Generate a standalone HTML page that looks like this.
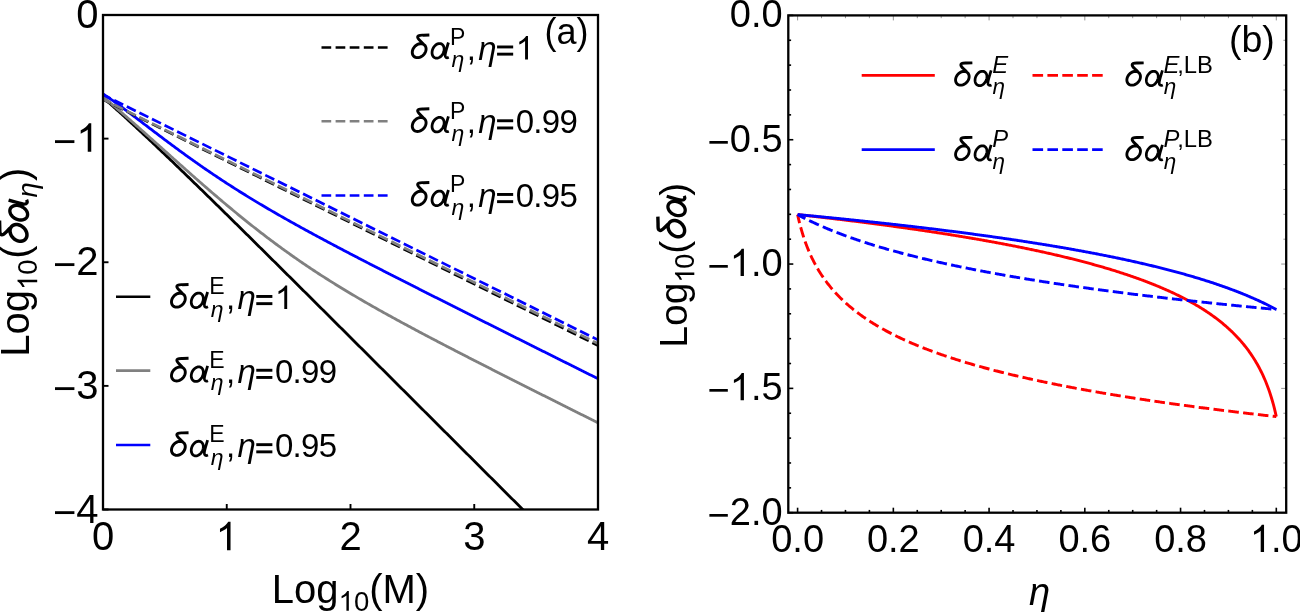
<!DOCTYPE html><html><head><meta charset="utf-8"><style>html,body{margin:0;padding:0;background:#fff;overflow:hidden;}svg{display:block;will-change:transform;}text{font-family:"Liberation Sans",sans-serif;font-kerning:none;}.i{font-style:italic;}</style></head><body>
<svg width="1300" height="612" viewBox="0 0 1300 612">
<rect width="1300" height="612" fill="#fff"/>
<defs>
<clipPath id="cl"><rect x="103.0" y="15.0" width="495.0" height="494.5"/></clipPath>
<clipPath id="cr"><rect x="788.3" y="15.4" width="497.9000000000001" height="497.30000000000007"/></clipPath>
</defs>
<path d="M103.00,97.46 L104.24,98.55 L105.47,99.64 L106.71,100.74 L107.95,101.84 L109.19,102.94 L110.42,104.04 L111.66,105.15 L112.90,106.25 L114.14,107.36 L115.38,108.48 L116.61,109.59 L117.85,110.71 L119.09,111.83 L120.33,112.95 L121.56,114.07 L122.80,115.20 L124.04,116.32 L125.28,117.45 L126.51,118.59 L127.75,119.72 L128.99,120.85 L130.22,121.99 L131.46,123.13 L132.70,124.27 L133.94,125.42 L135.18,126.56 L136.41,127.71 L137.65,128.86 L138.89,130.01 L140.12,131.16 L141.36,132.31 L142.60,133.47 L143.84,134.62 L145.07,135.78 L146.31,136.94 L147.55,138.10 L148.79,139.27 L150.03,140.43 L151.26,141.60 L152.50,142.76 L153.74,143.93 L154.97,145.10 L156.21,146.27 L157.45,147.45 L158.69,148.62 L159.93,149.79 L161.16,150.97 L162.40,152.15 L163.64,153.33 L164.88,154.51 L166.11,155.69 L167.35,156.87 L168.59,158.06 L169.82,159.24 L171.06,160.43 L172.30,161.61 L173.54,162.80 L174.77,163.99 L176.01,165.18 L177.25,166.37 L178.49,167.56 L179.72,168.75 L180.96,169.95 L182.20,171.14 L183.44,172.34 L184.68,173.54 L185.91,174.73 L187.15,175.93 L188.39,177.13 L189.62,178.33 L190.86,179.53 L192.10,180.73 L193.34,181.93 L194.57,183.13 L195.81,184.34 L197.05,185.54 L198.29,186.75 L199.53,187.95 L200.76,189.16 L202.00,190.37 L203.24,191.57 L204.48,192.78 L205.71,193.99 L206.95,195.20 L208.19,196.41 L209.43,197.62 L210.66,198.83 L211.90,200.04 L213.14,201.25 L214.38,202.47 L215.61,203.68 L216.85,204.89 L218.09,206.11 L219.32,207.32 L220.56,208.54 L221.80,209.75 L223.04,210.97 L224.27,212.19 L225.51,213.40 L226.75,214.62 L227.99,215.84 L229.23,217.06 L230.46,218.27 L231.70,219.49 L232.94,220.71 L234.18,221.93 L235.41,223.15 L236.65,224.37 L237.89,225.59 L239.12,226.81 L240.36,228.04 L241.60,229.26 L242.84,230.48 L244.08,231.70 L245.31,232.93 L246.55,234.15 L247.79,235.37 L249.03,236.60 L250.26,237.82 L251.50,239.04 L252.74,240.27 L253.97,241.49 L255.21,242.72 L256.45,243.94 L257.69,245.17 L258.93,246.39 L260.16,247.62 L261.40,248.85 L262.64,250.07 L263.88,251.30 L265.11,252.53 L266.35,253.75 L267.59,254.98 L268.83,256.21 L270.06,257.44 L271.30,258.66 L272.54,259.89 L273.77,261.12 L275.01,262.35 L276.25,263.58 L277.49,264.81 L278.73,266.03 L279.96,267.26 L281.20,268.49 L282.44,269.72 L283.67,270.95 L284.91,272.18 L286.15,273.41 L287.39,274.64 L288.62,275.87 L289.86,277.10 L291.10,278.33 L292.34,279.56 L293.58,280.79 L294.81,282.02 L296.05,283.25 L297.29,284.49 L298.52,285.72 L299.76,286.95 L301.00,288.18 L302.24,289.41 L303.48,290.64 L304.71,291.87 L305.95,293.11 L307.19,294.34 L308.43,295.57 L309.66,296.80 L310.90,298.03 L312.14,299.27 L313.38,300.50 L314.61,301.73 L315.85,302.96 L317.09,304.20 L318.32,305.43 L319.56,306.66 L320.80,307.90 L322.04,309.13 L323.27,310.36 L324.51,311.59 L325.75,312.83 L326.99,314.06 L328.23,315.29 L329.46,316.53 L330.70,317.76 L331.94,318.99 L333.18,320.23 L334.41,321.46 L335.65,322.70 L336.89,323.93 L338.12,325.16 L339.36,326.40 L340.60,327.63 L341.84,328.86 L343.07,330.10 L344.31,331.33 L345.55,332.57 L346.79,333.80 L348.02,335.04 L349.26,336.27 L350.50,337.50 L351.74,338.74 L352.98,339.97 L354.21,341.21 L355.45,342.44 L356.69,343.68 L357.93,344.91 L359.16,346.14 L360.40,347.38 L361.64,348.61 L362.88,349.85 L364.11,351.08 L365.35,352.32 L366.59,353.55 L367.82,354.79 L369.06,356.02 L370.30,357.26 L371.54,358.49 L372.78,359.73 L374.01,360.96 L375.25,362.20 L376.49,363.43 L377.73,364.67 L378.96,365.90 L380.20,367.14 L381.44,368.37 L382.68,369.61 L383.91,370.84 L385.15,372.08 L386.39,373.31 L387.63,374.55 L388.86,375.78 L390.10,377.02 L391.34,378.26 L392.57,379.49 L393.81,380.73 L395.05,381.96 L396.29,383.20 L397.52,384.43 L398.76,385.67 L400.00,386.90 L401.24,388.14 L402.47,389.37 L403.71,390.61 L404.95,391.85 L406.19,393.08 L407.43,394.32 L408.66,395.55 L409.90,396.79 L411.14,398.02 L412.38,399.26 L413.61,400.49 L414.85,401.73 L416.09,402.97 L417.32,404.20 L418.56,405.44 L419.80,406.67 L421.04,407.91 L422.28,409.14 L423.51,410.38 L424.75,411.62 L425.99,412.85 L427.23,414.09 L428.46,415.32 L429.70,416.56 L430.94,417.79 L432.18,419.03 L433.41,420.27 L434.65,421.50 L435.89,422.74 L437.12,423.97 L438.36,425.21 L439.60,426.45 L440.84,427.68 L442.08,428.92 L443.31,430.15 L444.55,431.39 L445.79,432.63 L447.03,433.86 L448.26,435.10 L449.50,436.33 L450.74,437.57 L451.97,438.81 L453.21,440.04 L454.45,441.28 L455.69,442.51 L456.93,443.75 L458.16,444.99 L459.40,446.22 L460.64,447.46 L461.88,448.69 L463.11,449.93 L464.35,451.17 L465.59,452.40 L466.82,453.64 L468.06,454.87 L469.30,456.11 L470.54,457.35 L471.77,458.58 L473.01,459.82 L474.25,461.05 L475.49,462.29 L476.73,463.53 L477.96,464.76 L479.20,466.00 L480.44,467.23 L481.68,468.47 L482.91,469.71 L484.15,470.94 L485.39,472.18 L486.62,473.41 L487.86,474.65 L489.10,475.89 L490.34,477.12 L491.57,478.36 L492.81,479.59 L494.05,480.83 L495.29,482.07 L496.53,483.30 L497.76,484.54 L499.00,485.78 L500.24,487.01 L501.48,488.25 L502.71,489.48 L503.95,490.72 L505.19,491.96 L506.43,493.19 L507.66,494.43 L508.90,495.66 L510.14,496.90 L511.38,498.14 L512.61,499.37 L513.85,500.61 L515.09,501.85 L516.33,503.08 L517.56,504.32 L518.80,505.55 L520.04,506.79 L521.27,508.03 L522.51,509.26 L523.75,510.50 L524.99,511.73 L526.22,512.97 L527.46,514.21 L528.70,515.44 L529.94,516.68 L531.17,517.92 L532.41,519.15 L533.65,520.39 L534.89,521.62 L536.12,522.86 L537.36,524.10 L538.60,525.33 L539.84,526.57 L541.08,527.80 L542.31,529.04 L543.55,530.28 L544.79,531.51 L546.03,532.75 L547.26,533.99 L548.50,535.22" fill="none" stroke="#000" stroke-width="2.8" stroke-linejoin="round" clip-path="url(#cl)"/>
<path d="M103.00,96.74 L104.24,97.77 L105.47,98.81 L106.71,99.85 L107.95,100.89 L109.19,101.94 L110.42,102.98 L111.66,104.04 L112.90,105.09 L114.14,106.15 L115.38,107.21 L116.61,108.27 L117.85,109.34 L119.09,110.41 L120.33,111.48 L121.56,112.55 L122.80,113.63 L124.04,114.71 L125.28,115.79 L126.51,116.87 L127.75,117.95 L128.99,119.04 L130.22,120.12 L131.46,121.21 L132.70,122.30 L133.94,123.39 L135.18,124.49 L136.41,125.58 L137.65,126.67 L138.89,127.77 L140.12,128.87 L141.36,129.97 L142.60,131.07 L143.84,132.17 L145.07,133.27 L146.31,134.37 L147.55,135.47 L148.79,136.58 L150.03,137.68 L151.26,138.79 L152.50,139.89 L153.74,141.00 L154.97,142.10 L156.21,143.21 L157.45,144.32 L158.69,145.42 L159.93,146.53 L161.16,147.64 L162.40,148.75 L163.64,149.85 L164.88,150.96 L166.11,152.07 L167.35,153.17 L168.59,154.28 L169.82,155.39 L171.06,156.49 L172.30,157.60 L173.54,158.70 L174.77,159.81 L176.01,160.91 L177.25,162.01 L178.49,163.12 L179.72,164.22 L180.96,165.32 L182.20,166.42 L183.44,167.52 L184.68,168.62 L185.91,169.71 L187.15,170.81 L188.39,171.91 L189.62,173.00 L190.86,174.09 L192.10,175.19 L193.34,176.28 L194.57,177.37 L195.81,178.45 L197.05,179.54 L198.29,180.62 L199.53,181.71 L200.76,182.79 L202.00,183.87 L203.24,184.95 L204.48,186.03 L205.71,187.10 L206.95,188.17 L208.19,189.25 L209.43,190.32 L210.66,191.38 L211.90,192.45 L213.14,193.51 L214.38,194.58 L215.61,195.64 L216.85,196.69 L218.09,197.75 L219.32,198.80 L220.56,199.85 L221.80,200.90 L223.04,201.95 L224.27,202.99 L225.51,204.03 L226.75,205.07 L227.99,206.11 L229.23,207.14 L230.46,208.17 L231.70,209.20 L232.94,210.23 L234.18,211.25 L235.41,212.27 L236.65,213.29 L237.89,214.31 L239.12,215.32 L240.36,216.33 L241.60,217.34 L242.84,218.34 L244.08,219.34 L245.31,220.34 L246.55,221.33 L247.79,222.32 L249.03,223.31 L250.26,224.30 L251.50,225.28 L252.74,226.26 L253.97,227.24 L255.21,228.21 L256.45,229.18 L257.69,230.15 L258.93,231.11 L260.16,232.07 L261.40,233.03 L262.64,233.98 L263.88,234.93 L265.11,235.88 L266.35,236.82 L267.59,237.76 L268.83,238.70 L270.06,239.64 L271.30,240.57 L272.54,241.49 L273.77,242.42 L275.01,243.34 L276.25,244.25 L277.49,245.17 L278.73,246.08 L279.96,246.98 L281.20,247.89 L282.44,248.79 L283.67,249.68 L284.91,250.58 L286.15,251.47 L287.39,252.35 L288.62,253.24 L289.86,254.12 L291.10,254.99 L292.34,255.87 L293.58,256.74 L294.81,257.60 L296.05,258.47 L297.29,259.33 L298.52,260.18 L299.76,261.04 L301.00,261.89 L302.24,262.73 L303.48,263.58 L304.71,264.42 L305.95,265.25 L307.19,266.09 L308.43,266.92 L309.66,267.75 L310.90,268.57 L312.14,269.39 L313.38,270.21 L314.61,271.03 L315.85,271.84 L317.09,272.65 L318.32,273.46 L319.56,274.26 L320.80,275.06 L322.04,275.86 L323.27,276.65 L324.51,277.44 L325.75,278.23 L326.99,279.02 L328.23,279.80 L329.46,280.58 L330.70,281.36 L331.94,282.14 L333.18,282.91 L334.41,283.68 L335.65,284.45 L336.89,285.21 L338.12,285.97 L339.36,286.73 L340.60,287.49 L341.84,288.25 L343.07,289.00 L344.31,289.75 L345.55,290.50 L346.79,291.24 L348.02,291.99 L349.26,292.73 L350.50,293.47 L351.74,294.20 L352.98,294.94 L354.21,295.67 L355.45,296.40 L356.69,297.13 L357.93,297.85 L359.16,298.58 L360.40,299.30 L361.64,300.02 L362.88,300.74 L364.11,301.45 L365.35,302.17 L366.59,302.88 L367.82,303.59 L369.06,304.30 L370.30,305.01 L371.54,305.71 L372.78,306.41 L374.01,307.12 L375.25,307.82 L376.49,308.52 L377.73,309.21 L378.96,309.91 L380.20,310.60 L381.44,311.29 L382.68,311.99 L383.91,312.67 L385.15,313.36 L386.39,314.05 L387.63,314.73 L388.86,315.42 L390.10,316.10 L391.34,316.78 L392.57,317.46 L393.81,318.14 L395.05,318.82 L396.29,319.50 L397.52,320.17 L398.76,320.84 L400.00,321.52 L401.24,322.19 L402.47,322.86 L403.71,323.53 L404.95,324.20 L406.19,324.86 L407.43,325.53 L408.66,326.20 L409.90,326.86 L411.14,327.52 L412.38,328.19 L413.61,328.85 L414.85,329.51 L416.09,330.17 L417.32,330.83 L418.56,331.48 L419.80,332.14 L421.04,332.80 L422.28,333.45 L423.51,334.11 L424.75,334.76 L425.99,335.41 L427.23,336.07 L428.46,336.72 L429.70,337.37 L430.94,338.02 L432.18,338.67 L433.41,339.32 L434.65,339.96 L435.89,340.61 L437.12,341.26 L438.36,341.90 L439.60,342.55 L440.84,343.19 L442.08,343.84 L443.31,344.48 L444.55,345.13 L445.79,345.77 L447.03,346.41 L448.26,347.05 L449.50,347.69 L450.74,348.33 L451.97,348.97 L453.21,349.61 L454.45,350.25 L455.69,350.89 L456.93,351.53 L458.16,352.17 L459.40,352.81 L460.64,353.44 L461.88,354.08 L463.11,354.72 L464.35,355.35 L465.59,355.99 L466.82,356.62 L468.06,357.26 L469.30,357.89 L470.54,358.52 L471.77,359.16 L473.01,359.79 L474.25,360.42 L475.49,361.06 L476.73,361.69 L477.96,362.32 L479.20,362.95 L480.44,363.58 L481.68,364.21 L482.91,364.84 L484.15,365.48 L485.39,366.11 L486.62,366.74 L487.86,367.36 L489.10,367.99 L490.34,368.62 L491.57,369.25 L492.81,369.88 L494.05,370.51 L495.29,371.14 L496.53,371.77 L497.76,372.39 L499.00,373.02 L500.24,373.65 L501.48,374.27 L502.71,374.90 L503.95,375.53 L505.19,376.15 L506.43,376.78 L507.66,377.41 L508.90,378.03 L510.14,378.66 L511.38,379.28 L512.61,379.91 L513.85,380.54 L515.09,381.16 L516.33,381.79 L517.56,382.41 L518.80,383.03 L520.04,383.66 L521.27,384.28 L522.51,384.91 L523.75,385.53 L524.99,386.16 L526.22,386.78 L527.46,387.40 L528.70,388.03 L529.94,388.65 L531.17,389.27 L532.41,389.90 L533.65,390.52 L534.89,391.14 L536.12,391.77 L537.36,392.39 L538.60,393.01 L539.84,393.63 L541.08,394.26 L542.31,394.88 L543.55,395.50 L544.79,396.12 L546.03,396.74 L547.26,397.37 L548.50,397.99 L549.74,398.61 L550.98,399.23 L552.21,399.85 L553.45,400.48 L554.69,401.10 L555.92,401.72 L557.16,402.34 L558.40,402.96 L559.64,403.58 L560.88,404.20 L562.11,404.82 L563.35,405.45 L564.59,406.07 L565.83,406.69 L567.06,407.31 L568.30,407.93 L569.54,408.55 L570.78,409.17 L572.01,409.79 L573.25,410.41 L574.49,411.03 L575.73,411.65 L576.96,412.27 L578.20,412.89 L579.44,413.51 L580.67,414.13 L581.91,414.75 L583.15,415.37 L584.39,415.99 L585.62,416.61 L586.86,417.23 L588.10,417.85 L589.34,418.47 L590.58,419.09 L591.81,419.71 L593.05,420.33 L594.29,420.95 L595.52,421.57 L596.76,422.19 L598.00,422.81" fill="none" stroke="#808080" stroke-width="2.8" stroke-linejoin="round" clip-path="url(#cl)"/>
<path d="M103.00,93.92 L104.24,94.74 L105.47,95.57 L106.71,96.41 L107.95,97.25 L109.19,98.11 L110.42,98.97 L111.66,99.84 L112.90,100.72 L114.14,101.60 L115.38,102.49 L116.61,103.38 L117.85,104.28 L119.09,105.18 L120.33,106.09 L121.56,107.00 L122.80,107.92 L124.04,108.84 L125.28,109.76 L126.51,110.68 L127.75,111.61 L128.99,112.54 L130.22,113.47 L131.46,114.41 L132.70,115.34 L133.94,116.28 L135.18,117.22 L136.41,118.16 L137.65,119.10 L138.89,120.04 L140.12,120.98 L141.36,121.93 L142.60,122.87 L143.84,123.81 L145.07,124.76 L146.31,125.70 L147.55,126.64 L148.79,127.58 L150.03,128.53 L151.26,129.47 L152.50,130.41 L153.74,131.35 L154.97,132.29 L156.21,133.23 L157.45,134.17 L158.69,135.10 L159.93,136.04 L161.16,136.97 L162.40,137.91 L163.64,138.84 L164.88,139.77 L166.11,140.69 L167.35,141.62 L168.59,142.54 L169.82,143.47 L171.06,144.39 L172.30,145.31 L173.54,146.22 L174.77,147.14 L176.01,148.05 L177.25,148.96 L178.49,149.87 L179.72,150.78 L180.96,151.68 L182.20,152.58 L183.44,153.48 L184.68,154.38 L185.91,155.27 L187.15,156.17 L188.39,157.06 L189.62,157.94 L190.86,158.83 L192.10,159.71 L193.34,160.59 L194.57,161.46 L195.81,162.34 L197.05,163.21 L198.29,164.08 L199.53,164.94 L200.76,165.81 L202.00,166.67 L203.24,167.53 L204.48,168.38 L205.71,169.23 L206.95,170.08 L208.19,170.93 L209.43,171.77 L210.66,172.61 L211.90,173.45 L213.14,174.29 L214.38,175.12 L215.61,175.95 L216.85,176.78 L218.09,177.60 L219.32,178.42 L220.56,179.24 L221.80,180.06 L223.04,180.87 L224.27,181.68 L225.51,182.49 L226.75,183.30 L227.99,184.10 L229.23,184.90 L230.46,185.70 L231.70,186.49 L232.94,187.28 L234.18,188.07 L235.41,188.86 L236.65,189.64 L237.89,190.42 L239.12,191.20 L240.36,191.98 L241.60,192.75 L242.84,193.52 L244.08,194.29 L245.31,195.06 L246.55,195.82 L247.79,196.59 L249.03,197.35 L250.26,198.10 L251.50,198.86 L252.74,199.61 L253.97,200.36 L255.21,201.11 L256.45,201.85 L257.69,202.60 L258.93,203.34 L260.16,204.08 L261.40,204.81 L262.64,205.55 L263.88,206.28 L265.11,207.01 L266.35,207.74 L267.59,208.47 L268.83,209.19 L270.06,209.92 L271.30,210.64 L272.54,211.36 L273.77,212.07 L275.01,212.79 L276.25,213.50 L277.49,214.21 L278.73,214.92 L279.96,215.63 L281.20,216.34 L282.44,217.04 L283.67,217.75 L284.91,218.45 L286.15,219.15 L287.39,219.85 L288.62,220.54 L289.86,221.24 L291.10,221.93 L292.34,222.62 L293.58,223.31 L294.81,224.00 L296.05,224.69 L297.29,225.38 L298.52,226.06 L299.76,226.75 L301.00,227.43 L302.24,228.11 L303.48,228.79 L304.71,229.47 L305.95,230.15 L307.19,230.82 L308.43,231.50 L309.66,232.17 L310.90,232.85 L312.14,233.52 L313.38,234.19 L314.61,234.86 L315.85,235.53 L317.09,236.19 L318.32,236.86 L319.56,237.53 L320.80,238.19 L322.04,238.85 L323.27,239.52 L324.51,240.18 L325.75,240.84 L326.99,241.50 L328.23,242.16 L329.46,242.81 L330.70,243.47 L331.94,244.13 L333.18,244.78 L334.41,245.44 L335.65,246.09 L336.89,246.75 L338.12,247.40 L339.36,248.05 L340.60,248.70 L341.84,249.35 L343.07,250.00 L344.31,250.65 L345.55,251.30 L346.79,251.95 L348.02,252.59 L349.26,253.24 L350.50,253.89 L351.74,254.53 L352.98,255.17 L354.21,255.82 L355.45,256.46 L356.69,257.11 L357.93,257.75 L359.16,258.39 L360.40,259.03 L361.64,259.67 L362.88,260.31 L364.11,260.95 L365.35,261.59 L366.59,262.23 L367.82,262.87 L369.06,263.51 L370.30,264.14 L371.54,264.78 L372.78,265.42 L374.01,266.05 L375.25,266.69 L376.49,267.33 L377.73,267.96 L378.96,268.60 L380.20,269.23 L381.44,269.86 L382.68,270.50 L383.91,271.13 L385.15,271.76 L386.39,272.40 L387.63,273.03 L388.86,273.66 L390.10,274.29 L391.34,274.92 L392.57,275.56 L393.81,276.19 L395.05,276.82 L396.29,277.45 L397.52,278.08 L398.76,278.71 L400.00,279.34 L401.24,279.97 L402.47,280.59 L403.71,281.22 L404.95,281.85 L406.19,282.48 L407.43,283.11 L408.66,283.74 L409.90,284.36 L411.14,284.99 L412.38,285.62 L413.61,286.24 L414.85,286.87 L416.09,287.50 L417.32,288.12 L418.56,288.75 L419.80,289.38 L421.04,290.00 L422.28,290.63 L423.51,291.25 L424.75,291.88 L425.99,292.50 L427.23,293.13 L428.46,293.75 L429.70,294.38 L430.94,295.00 L432.18,295.63 L433.41,296.25 L434.65,296.88 L435.89,297.50 L437.12,298.12 L438.36,298.75 L439.60,299.37 L440.84,300.00 L442.08,300.62 L443.31,301.24 L444.55,301.86 L445.79,302.49 L447.03,303.11 L448.26,303.73 L449.50,304.36 L450.74,304.98 L451.97,305.60 L453.21,306.22 L454.45,306.85 L455.69,307.47 L456.93,308.09 L458.16,308.71 L459.40,309.33 L460.64,309.96 L461.88,310.58 L463.11,311.20 L464.35,311.82 L465.59,312.44 L466.82,313.06 L468.06,313.69 L469.30,314.31 L470.54,314.93 L471.77,315.55 L473.01,316.17 L474.25,316.79 L475.49,317.41 L476.73,318.03 L477.96,318.65 L479.20,319.28 L480.44,319.90 L481.68,320.52 L482.91,321.14 L484.15,321.76 L485.39,322.38 L486.62,323.00 L487.86,323.62 L489.10,324.24 L490.34,324.86 L491.57,325.48 L492.81,326.10 L494.05,326.72 L495.29,327.34 L496.53,327.96 L497.76,328.58 L499.00,329.20 L500.24,329.82 L501.48,330.44 L502.71,331.06 L503.95,331.68 L505.19,332.30 L506.43,332.92 L507.66,333.54 L508.90,334.16 L510.14,334.78 L511.38,335.40 L512.61,336.02 L513.85,336.64 L515.09,337.26 L516.33,337.88 L517.56,338.49 L518.80,339.11 L520.04,339.73 L521.27,340.35 L522.51,340.97 L523.75,341.59 L524.99,342.21 L526.22,342.83 L527.46,343.45 L528.70,344.07 L529.94,344.69 L531.17,345.31 L532.41,345.93 L533.65,346.54 L534.89,347.16 L536.12,347.78 L537.36,348.40 L538.60,349.02 L539.84,349.64 L541.08,350.26 L542.31,350.88 L543.55,351.50 L544.79,352.12 L546.03,352.73 L547.26,353.35 L548.50,353.97 L549.74,354.59 L550.98,355.21 L552.21,355.83 L553.45,356.45 L554.69,357.07 L555.92,357.69 L557.16,358.30 L558.40,358.92 L559.64,359.54 L560.88,360.16 L562.11,360.78 L563.35,361.40 L564.59,362.02 L565.83,362.63 L567.06,363.25 L568.30,363.87 L569.54,364.49 L570.78,365.11 L572.01,365.73 L573.25,366.35 L574.49,366.97 L575.73,367.58 L576.96,368.20 L578.20,368.82 L579.44,369.44 L580.67,370.06 L581.91,370.68 L583.15,371.29 L584.39,371.91 L585.62,372.53 L586.86,373.15 L588.10,373.77 L589.34,374.39 L590.58,375.01 L591.81,375.62 L593.05,376.24 L594.29,376.86 L595.52,377.48 L596.76,378.10 L598.00,378.72" fill="none" stroke="#0000ff" stroke-width="2.8" stroke-linejoin="round" clip-path="url(#cl)"/>
<path d="M103.00,99.60 L598.00,345.50" fill="none" stroke="#000" stroke-width="2.7" stroke-linejoin="round" stroke-dasharray="10 4.05" stroke-dashoffset="1.55" clip-path="url(#cl)"/>
<path d="M103.00,99.20 L598.00,343.60" fill="none" stroke="#808080" stroke-width="2.7" stroke-linejoin="round" stroke-dasharray="10 4.05" stroke-dashoffset="1.55" clip-path="url(#cl)"/>
<path d="M103.00,94.70 L598.00,339.90" fill="none" stroke="#0000ff" stroke-width="2.7" stroke-linejoin="round" stroke-dasharray="10 4.05" stroke-dashoffset="1.55" clip-path="url(#cl)"/>
<path d="M797.60,214.58 L798.56,214.68 L799.51,214.79 L800.47,214.89 L801.43,215.00 L802.39,215.11 L803.34,215.21 L804.30,215.32 L805.26,215.43 L806.22,215.53 L807.17,215.64 L808.13,215.75 L809.09,215.86 L810.05,215.96 L811.00,216.07 L811.96,216.18 L812.92,216.29 L813.88,216.40 L814.83,216.51 L815.79,216.62 L816.75,216.73 L817.71,216.84 L818.66,216.95 L819.62,217.06 L820.58,217.17 L821.53,217.28 L822.49,217.39 L823.45,217.50 L824.41,217.61 L825.36,217.72 L826.32,217.84 L827.28,217.95 L828.24,218.06 L829.19,218.17 L830.15,218.29 L831.11,218.40 L832.07,218.51 L833.02,218.62 L833.98,218.74 L834.94,218.85 L835.90,218.97 L836.85,219.08 L837.81,219.20 L838.77,219.31 L839.73,219.43 L840.68,219.54 L841.64,219.66 L842.60,219.77 L843.56,219.89 L844.51,220.01 L845.47,220.12 L846.43,220.24 L847.38,220.36 L848.34,220.47 L849.30,220.59 L850.26,220.71 L851.21,220.83 L852.17,220.95 L853.13,221.07 L854.09,221.18 L855.04,221.30 L856.00,221.42 L856.96,221.54 L857.92,221.66 L858.87,221.78 L859.83,221.90 L860.79,222.03 L861.75,222.15 L862.70,222.27 L863.66,222.39 L864.62,222.51 L865.58,222.63 L866.53,222.76 L867.49,222.88 L868.45,223.00 L869.40,223.13 L870.36,223.25 L871.32,223.37 L872.28,223.50 L873.23,223.62 L874.19,223.75 L875.15,223.87 L876.11,224.00 L877.06,224.12 L878.02,224.25 L878.98,224.38 L879.94,224.50 L880.89,224.63 L881.85,224.76 L882.81,224.88 L883.77,225.01 L884.72,225.14 L885.68,225.27 L886.64,225.40 L887.60,225.52 L888.55,225.65 L889.51,225.78 L890.47,225.91 L891.43,226.04 L892.38,226.17 L893.34,226.31 L894.30,226.44 L895.25,226.57 L896.21,226.70 L897.17,226.83 L898.13,226.96 L899.08,227.10 L900.04,227.23 L901.00,227.36 L901.96,227.50 L902.91,227.63 L903.87,227.77 L904.83,227.90 L905.79,228.04 L906.74,228.17 L907.70,228.31 L908.66,228.44 L909.62,228.58 L910.57,228.72 L911.53,228.85 L912.49,228.99 L913.45,229.13 L914.40,229.27 L915.36,229.41 L916.32,229.54 L917.27,229.68 L918.23,229.82 L919.19,229.96 L920.15,230.10 L921.10,230.24 L922.06,230.39 L923.02,230.53 L923.98,230.67 L924.93,230.81 L925.89,230.95 L926.85,231.10 L927.81,231.24 L928.76,231.38 L929.72,231.53 L930.68,231.67 L931.64,231.82 L932.59,231.96 L933.55,232.11 L934.51,232.25 L935.47,232.40 L936.42,232.55 L937.38,232.70 L938.34,232.84 L939.30,232.99 L940.25,233.14 L941.21,233.29 L942.17,233.44 L943.12,233.59 L944.08,233.74 L945.04,233.89 L946.00,234.04 L946.95,234.19 L947.91,234.34 L948.87,234.49 L949.83,234.65 L950.78,234.80 L951.74,234.95 L952.70,235.11 L953.66,235.26 L954.61,235.42 L955.57,235.57 L956.53,235.73 L957.49,235.88 L958.44,236.04 L959.40,236.20 L960.36,236.36 L961.32,236.51 L962.27,236.67 L963.23,236.83 L964.19,236.99 L965.14,237.15 L966.10,237.31 L967.06,237.47 L968.02,237.63 L968.97,237.80 L969.93,237.96 L970.89,238.12 L971.85,238.28 L972.80,238.45 L973.76,238.61 L974.72,238.78 L975.68,238.94 L976.63,239.11 L977.59,239.27 L978.55,239.44 L979.51,239.61 L980.46,239.78 L981.42,239.94 L982.38,240.11 L983.34,240.28 L984.29,240.45 L985.25,240.62 L986.21,240.79 L987.17,240.97 L988.12,241.14 L989.08,241.31 L990.04,241.48 L990.99,241.66 L991.95,241.83 L992.91,242.01 L993.87,242.18 L994.82,242.36 L995.78,242.54 L996.74,242.71 L997.70,242.89 L998.65,243.07 L999.61,243.25 L1000.57,243.43 L1001.53,243.61 L1002.48,243.79 L1003.44,243.97 L1004.40,244.15 L1005.36,244.33 L1006.31,244.52 L1007.27,244.70 L1008.23,244.89 L1009.19,245.07 L1010.14,245.26 L1011.10,245.44 L1012.06,245.63 L1013.01,245.82 L1013.97,246.01 L1014.93,246.20 L1015.89,246.39 L1016.84,246.58 L1017.80,246.77 L1018.76,246.96 L1019.72,247.15 L1020.67,247.34 L1021.63,247.54 L1022.59,247.73 L1023.55,247.93 L1024.50,248.12 L1025.46,248.32 L1026.42,248.52 L1027.38,248.71 L1028.33,248.91 L1029.29,249.11 L1030.25,249.31 L1031.21,249.51 L1032.16,249.72 L1033.12,249.92 L1034.08,250.12 L1035.04,250.33 L1035.99,250.53 L1036.95,250.74 L1037.91,250.94 L1038.86,251.15 L1039.82,251.36 L1040.78,251.57 L1041.74,251.78 L1042.69,251.99 L1043.65,252.20 L1044.61,252.41 L1045.57,252.62 L1046.52,252.84 L1047.48,253.05 L1048.44,253.27 L1049.40,253.48 L1050.35,253.70 L1051.31,253.92 L1052.27,254.14 L1053.23,254.36 L1054.18,254.58 L1055.14,254.80 L1056.10,255.02 L1057.06,255.24 L1058.01,255.47 L1058.97,255.69 L1059.93,255.92 L1060.88,256.15 L1061.84,256.38 L1062.80,256.61 L1063.76,256.84 L1064.71,257.07 L1065.67,257.30 L1066.63,257.53 L1067.59,257.77 L1068.54,258.00 L1069.50,258.24 L1070.46,258.47 L1071.42,258.71 L1072.37,258.95 L1073.33,259.19 L1074.29,259.43 L1075.25,259.68 L1076.20,259.92 L1077.16,260.16 L1078.12,260.41 L1079.08,260.66 L1080.03,260.91 L1080.99,261.15 L1081.95,261.40 L1082.91,261.66 L1083.86,261.91 L1084.82,262.16 L1085.78,262.42 L1086.73,262.67 L1087.69,262.93 L1088.65,263.19 L1089.61,263.45 L1090.56,263.71 L1091.52,263.97 L1092.48,264.24 L1093.44,264.50 L1094.39,264.77 L1095.35,265.04 L1096.31,265.31 L1097.27,265.58 L1098.22,265.85 L1099.18,266.12 L1100.14,266.40 L1101.10,266.67 L1102.05,266.95 L1103.01,267.23 L1103.97,267.51 L1104.93,267.79 L1105.88,268.07 L1106.84,268.36 L1107.80,268.65 L1108.76,268.93 L1109.71,269.22 L1110.67,269.51 L1111.63,269.81 L1112.58,270.10 L1113.54,270.40 L1114.50,270.69 L1115.46,270.99 L1116.41,271.29 L1117.37,271.59 L1118.33,271.90 L1119.29,272.20 L1120.24,272.51 L1121.20,272.82 L1122.16,273.13 L1123.12,273.44 L1124.07,273.76 L1125.03,274.08 L1125.99,274.39 L1126.95,274.71 L1127.90,275.04 L1128.86,275.36 L1129.82,275.69 L1130.78,276.01 L1131.73,276.34 L1132.69,276.68 L1133.65,277.01 L1134.60,277.35 L1135.56,277.68 L1136.52,278.02 L1137.48,278.37 L1138.43,278.71 L1139.39,279.06 L1140.35,279.41 L1141.31,279.76 L1142.26,280.11 L1143.22,280.47 L1144.18,280.83 L1145.14,281.19 L1146.09,281.55 L1147.05,281.92 L1148.01,282.29 L1148.97,282.66 L1149.92,283.03 L1150.88,283.40 L1151.84,283.78 L1152.80,284.16 L1153.75,284.55 L1154.71,284.94 L1155.67,285.32 L1156.62,285.72 L1157.58,286.11 L1158.54,286.51 L1159.50,286.91 L1160.45,287.32 L1161.41,287.72 L1162.37,288.13 L1163.33,288.55 L1164.28,288.96 L1165.24,289.38 L1166.20,289.80 L1167.16,290.23 L1168.11,290.66 L1169.07,291.09 L1170.03,291.53 L1170.99,291.97 L1171.94,292.42 L1172.90,292.86 L1173.86,293.31 L1174.82,293.77 L1175.77,294.23 L1176.73,294.69 L1177.69,295.16 L1178.65,295.63 L1179.60,296.10 L1180.56,296.58 L1181.52,297.07 L1182.47,297.55 L1183.43,298.05 L1184.39,298.54 L1185.35,299.05 L1186.30,299.55 L1187.26,300.06 L1188.22,300.58 L1189.18,301.10 L1190.13,301.63 L1191.09,302.16 L1192.05,302.69 L1193.01,303.24 L1193.96,303.78 L1194.92,304.34 L1195.88,304.89 L1196.84,305.46 L1197.79,306.03 L1198.75,306.61 L1199.71,307.19 L1200.67,307.78 L1201.62,308.37 L1202.58,308.98 L1203.54,309.59 L1204.49,310.20 L1205.45,310.82 L1206.41,311.46 L1207.37,312.09 L1208.32,312.74 L1209.28,313.39 L1210.24,314.05 L1211.20,314.72 L1212.15,315.40 L1213.11,316.09 L1214.07,316.78 L1215.03,317.49 L1215.98,318.20 L1216.94,318.92 L1217.90,319.66 L1218.86,320.40 L1219.81,321.15 L1220.77,321.92 L1221.73,322.69 L1222.69,323.48 L1223.64,324.28 L1224.60,325.09 L1225.56,325.91 L1226.52,326.75 L1227.47,327.60 L1228.43,328.46 L1229.39,329.33 L1230.34,330.22 L1231.30,331.13 L1232.26,332.05 L1233.22,332.99 L1234.17,333.94 L1235.13,334.91 L1236.09,335.90 L1237.05,336.90 L1238.00,337.93 L1238.96,338.98 L1239.92,340.04 L1240.88,341.13 L1241.83,342.24 L1242.79,343.37 L1243.75,344.53 L1244.71,345.71 L1245.66,346.92 L1246.62,348.16 L1247.58,349.43 L1248.54,350.72 L1249.49,352.05 L1250.45,353.41 L1251.41,354.81 L1252.37,356.25 L1253.32,357.72 L1254.28,359.23 L1255.24,360.79 L1256.19,362.40 L1257.15,364.05 L1258.11,365.76 L1259.07,367.52 L1260.02,369.34 L1260.98,371.23 L1261.94,373.18 L1262.90,375.21 L1263.85,377.31 L1264.81,379.51 L1265.77,381.79 L1266.73,384.17 L1267.68,386.67 L1268.64,389.29 L1269.60,392.03 L1270.56,394.93 L1271.51,397.99 L1272.47,401.24 L1273.43,404.69 L1274.39,408.38 L1275.34,412.34 L1276.30,416.61" fill="none" stroke="#ff0000" stroke-width="2.9" stroke-linejoin="round" clip-path="url(#cr)"/>
<path d="M797.60,214.58 L798.56,218.85 L799.51,222.81 L800.47,226.50 L801.43,229.95 L802.39,233.19 L803.34,236.26 L804.30,239.15 L805.26,241.90 L806.22,244.52 L807.17,247.01 L808.13,249.40 L809.09,251.68 L810.05,253.87 L811.00,255.98 L811.96,258.01 L812.92,259.96 L813.88,261.84 L814.83,263.67 L815.79,265.43 L816.75,267.13 L817.71,268.79 L818.66,270.39 L819.62,271.95 L820.58,273.47 L821.53,274.94 L822.49,276.38 L823.45,277.77 L824.41,279.14 L825.36,280.46 L826.32,281.76 L827.28,283.03 L828.24,284.26 L829.19,285.47 L830.15,286.66 L831.11,287.81 L832.07,288.95 L833.02,290.06 L833.98,291.14 L834.94,292.21 L835.90,293.26 L836.85,294.28 L837.81,295.29 L838.77,296.28 L839.73,297.25 L840.68,298.20 L841.64,299.14 L842.60,300.06 L843.56,300.96 L844.51,301.85 L845.47,302.73 L846.43,303.59 L847.38,304.44 L848.34,305.28 L849.30,306.10 L850.26,306.91 L851.21,307.71 L852.17,308.49 L853.13,309.27 L854.09,310.03 L855.04,310.79 L856.00,311.53 L856.96,312.26 L857.92,312.99 L858.87,313.70 L859.83,314.40 L860.79,315.10 L861.75,315.79 L862.70,316.46 L863.66,317.13 L864.62,317.80 L865.58,318.45 L866.53,319.09 L867.49,319.73 L868.45,320.36 L869.40,320.99 L870.36,321.60 L871.32,322.21 L872.28,322.81 L873.23,323.41 L874.19,324.00 L875.15,324.58 L876.11,325.16 L877.06,325.73 L878.02,326.29 L878.98,326.85 L879.94,327.40 L880.89,327.95 L881.85,328.49 L882.81,329.03 L883.77,329.56 L884.72,330.09 L885.68,330.61 L886.64,331.12 L887.60,331.64 L888.55,332.14 L889.51,332.64 L890.47,333.14 L891.43,333.63 L892.38,334.12 L893.34,334.60 L894.30,335.08 L895.25,335.56 L896.21,336.03 L897.17,336.50 L898.13,336.96 L899.08,337.42 L900.04,337.87 L901.00,338.32 L901.96,338.77 L902.91,339.22 L903.87,339.66 L904.83,340.09 L905.79,340.53 L906.74,340.96 L907.70,341.38 L908.66,341.81 L909.62,342.22 L910.57,342.64 L911.53,343.05 L912.49,343.46 L913.45,343.87 L914.40,344.28 L915.36,344.68 L916.32,345.08 L917.27,345.47 L918.23,345.86 L919.19,346.25 L920.15,346.64 L921.10,347.02 L922.06,347.40 L923.02,347.78 L923.98,348.16 L924.93,348.53 L925.89,348.90 L926.85,349.27 L927.81,349.64 L928.76,350.00 L929.72,350.36 L930.68,350.72 L931.64,351.07 L932.59,351.43 L933.55,351.78 L934.51,352.13 L935.47,352.48 L936.42,352.82 L937.38,353.16 L938.34,353.50 L939.30,353.84 L940.25,354.18 L941.21,354.51 L942.17,354.84 L943.12,355.17 L944.08,355.50 L945.04,355.83 L946.00,356.15 L946.95,356.47 L947.91,356.79 L948.87,357.11 L949.83,357.43 L950.78,357.74 L951.74,358.06 L952.70,358.37 L953.66,358.68 L954.61,358.98 L955.57,359.29 L956.53,359.59 L957.49,359.90 L958.44,360.20 L959.40,360.49 L960.36,360.79 L961.32,361.09 L962.27,361.38 L963.23,361.67 L964.19,361.96 L965.14,362.25 L966.10,362.54 L967.06,362.83 L968.02,363.11 L968.97,363.40 L969.93,363.68 L970.89,363.96 L971.85,364.24 L972.80,364.51 L973.76,364.79 L974.72,365.06 L975.68,365.34 L976.63,365.61 L977.59,365.88 L978.55,366.15 L979.51,366.42 L980.46,366.68 L981.42,366.95 L982.38,367.21 L983.34,367.48 L984.29,367.74 L985.25,368.00 L986.21,368.26 L987.17,368.51 L988.12,368.77 L989.08,369.02 L990.04,369.28 L990.99,369.53 L991.95,369.78 L992.91,370.03 L993.87,370.28 L994.82,370.53 L995.78,370.78 L996.74,371.02 L997.70,371.27 L998.65,371.51 L999.61,371.75 L1000.57,372.00 L1001.53,372.24 L1002.48,372.47 L1003.44,372.71 L1004.40,372.95 L1005.36,373.19 L1006.31,373.42 L1007.27,373.66 L1008.23,373.89 L1009.19,374.12 L1010.14,374.35 L1011.10,374.58 L1012.06,374.81 L1013.01,375.04 L1013.97,375.27 L1014.93,375.49 L1015.89,375.72 L1016.84,375.94 L1017.80,376.17 L1018.76,376.39 L1019.72,376.61 L1020.67,376.83 L1021.63,377.05 L1022.59,377.27 L1023.55,377.49 L1024.50,377.70 L1025.46,377.92 L1026.42,378.14 L1027.38,378.35 L1028.33,378.56 L1029.29,378.78 L1030.25,378.99 L1031.21,379.20 L1032.16,379.41 L1033.12,379.62 L1034.08,379.83 L1035.04,380.04 L1035.99,380.24 L1036.95,380.45 L1037.91,380.66 L1038.86,380.86 L1039.82,381.07 L1040.78,381.27 L1041.74,381.47 L1042.69,381.67 L1043.65,381.87 L1044.61,382.07 L1045.57,382.27 L1046.52,382.47 L1047.48,382.67 L1048.44,382.87 L1049.40,383.06 L1050.35,383.26 L1051.31,383.46 L1052.27,383.65 L1053.23,383.84 L1054.18,384.04 L1055.14,384.23 L1056.10,384.42 L1057.06,384.61 L1058.01,384.80 L1058.97,384.99 L1059.93,385.18 L1060.88,385.37 L1061.84,385.56 L1062.80,385.74 L1063.76,385.93 L1064.71,386.12 L1065.67,386.30 L1066.63,386.49 L1067.59,386.67 L1068.54,386.85 L1069.50,387.04 L1070.46,387.22 L1071.42,387.40 L1072.37,387.58 L1073.33,387.76 L1074.29,387.94 L1075.25,388.12 L1076.20,388.30 L1077.16,388.47 L1078.12,388.65 L1079.08,388.83 L1080.03,389.00 L1080.99,389.18 L1081.95,389.36 L1082.91,389.53 L1083.86,389.70 L1084.82,389.88 L1085.78,390.05 L1086.73,390.22 L1087.69,390.39 L1088.65,390.56 L1089.61,390.73 L1090.56,390.90 L1091.52,391.07 L1092.48,391.24 L1093.44,391.41 L1094.39,391.58 L1095.35,391.75 L1096.31,391.91 L1097.27,392.08 L1098.22,392.25 L1099.18,392.41 L1100.14,392.58 L1101.10,392.74 L1102.05,392.90 L1103.01,393.07 L1103.97,393.23 L1104.93,393.39 L1105.88,393.55 L1106.84,393.72 L1107.80,393.88 L1108.76,394.04 L1109.71,394.20 L1110.67,394.36 L1111.63,394.51 L1112.58,394.67 L1113.54,394.83 L1114.50,394.99 L1115.46,395.15 L1116.41,395.30 L1117.37,395.46 L1118.33,395.61 L1119.29,395.77 L1120.24,395.92 L1121.20,396.08 L1122.16,396.23 L1123.12,396.39 L1124.07,396.54 L1125.03,396.69 L1125.99,396.84 L1126.95,397.00 L1127.90,397.15 L1128.86,397.30 L1129.82,397.45 L1130.78,397.60 L1131.73,397.75 L1132.69,397.90 L1133.65,398.05 L1134.60,398.20 L1135.56,398.34 L1136.52,398.49 L1137.48,398.64 L1138.43,398.79 L1139.39,398.93 L1140.35,399.08 L1141.31,399.22 L1142.26,399.37 L1143.22,399.51 L1144.18,399.66 L1145.14,399.80 L1146.09,399.95 L1147.05,400.09 L1148.01,400.23 L1148.97,400.38 L1149.92,400.52 L1150.88,400.66 L1151.84,400.80 L1152.80,400.94 L1153.75,401.08 L1154.71,401.22 L1155.67,401.36 L1156.62,401.50 L1157.58,401.64 L1158.54,401.78 L1159.50,401.92 L1160.45,402.06 L1161.41,402.20 L1162.37,402.33 L1163.33,402.47 L1164.28,402.61 L1165.24,402.74 L1166.20,402.88 L1167.16,403.02 L1168.11,403.15 L1169.07,403.29 L1170.03,403.42 L1170.99,403.56 L1171.94,403.69 L1172.90,403.82 L1173.86,403.96 L1174.82,404.09 L1175.77,404.22 L1176.73,404.36 L1177.69,404.49 L1178.65,404.62 L1179.60,404.75 L1180.56,404.88 L1181.52,405.01 L1182.47,405.14 L1183.43,405.27 L1184.39,405.40 L1185.35,405.53 L1186.30,405.66 L1187.26,405.79 L1188.22,405.92 L1189.18,406.05 L1190.13,406.18 L1191.09,406.30 L1192.05,406.43 L1193.01,406.56 L1193.96,406.69 L1194.92,406.81 L1195.88,406.94 L1196.84,407.06 L1197.79,407.19 L1198.75,407.32 L1199.71,407.44 L1200.67,407.57 L1201.62,407.69 L1202.58,407.81 L1203.54,407.94 L1204.49,408.06 L1205.45,408.18 L1206.41,408.31 L1207.37,408.43 L1208.32,408.55 L1209.28,408.68 L1210.24,408.80 L1211.20,408.92 L1212.15,409.04 L1213.11,409.16 L1214.07,409.28 L1215.03,409.40 L1215.98,409.52 L1216.94,409.64 L1217.90,409.76 L1218.86,409.88 L1219.81,410.00 L1220.77,410.12 L1221.73,410.24 L1222.69,410.36 L1223.64,410.48 L1224.60,410.59 L1225.56,410.71 L1226.52,410.83 L1227.47,410.95 L1228.43,411.06 L1229.39,411.18 L1230.34,411.30 L1231.30,411.41 L1232.26,411.53 L1233.22,411.65 L1234.17,411.76 L1235.13,411.88 L1236.09,411.99 L1237.05,412.11 L1238.00,412.22 L1238.96,412.33 L1239.92,412.45 L1240.88,412.56 L1241.83,412.68 L1242.79,412.79 L1243.75,412.90 L1244.71,413.01 L1245.66,413.13 L1246.62,413.24 L1247.58,413.35 L1248.54,413.46 L1249.49,413.58 L1250.45,413.69 L1251.41,413.80 L1252.37,413.91 L1253.32,414.02 L1254.28,414.13 L1255.24,414.24 L1256.19,414.35 L1257.15,414.46 L1258.11,414.57 L1259.07,414.68 L1260.02,414.79 L1260.98,414.90 L1261.94,415.01 L1262.90,415.11 L1263.85,415.22 L1264.81,415.33 L1265.77,415.44 L1266.73,415.55 L1267.68,415.65 L1268.64,415.76 L1269.60,415.87 L1270.56,415.97 L1271.51,416.08 L1272.47,416.19 L1273.43,416.29 L1274.39,416.40 L1275.34,416.51 L1276.30,416.61" fill="none" stroke="#ff0000" stroke-width="2.9" stroke-linejoin="round" stroke-dasharray="10.6 4.3" stroke-dashoffset="1.86" clip-path="url(#cr)"/>
<path d="M797.60,214.58 L798.56,214.67 L799.51,214.76 L800.47,214.84 L801.43,214.93 L802.39,215.02 L803.34,215.12 L804.30,215.21 L805.26,215.30 L806.22,215.39 L807.17,215.48 L808.13,215.57 L809.09,215.66 L810.05,215.75 L811.00,215.84 L811.96,215.93 L812.92,216.03 L813.88,216.12 L814.83,216.21 L815.79,216.30 L816.75,216.39 L817.71,216.49 L818.66,216.58 L819.62,216.67 L820.58,216.76 L821.53,216.86 L822.49,216.95 L823.45,217.04 L824.41,217.14 L825.36,217.23 L826.32,217.33 L827.28,217.42 L828.24,217.51 L829.19,217.61 L830.15,217.70 L831.11,217.80 L832.07,217.89 L833.02,217.99 L833.98,218.08 L834.94,218.18 L835.90,218.27 L836.85,218.37 L837.81,218.47 L838.77,218.56 L839.73,218.66 L840.68,218.76 L841.64,218.85 L842.60,218.95 L843.56,219.05 L844.51,219.14 L845.47,219.24 L846.43,219.34 L847.38,219.44 L848.34,219.53 L849.30,219.63 L850.26,219.73 L851.21,219.83 L852.17,219.93 L853.13,220.03 L854.09,220.12 L855.04,220.22 L856.00,220.32 L856.96,220.42 L857.92,220.52 L858.87,220.62 L859.83,220.72 L860.79,220.82 L861.75,220.92 L862.70,221.02 L863.66,221.12 L864.62,221.23 L865.58,221.33 L866.53,221.43 L867.49,221.53 L868.45,221.63 L869.40,221.73 L870.36,221.83 L871.32,221.94 L872.28,222.04 L873.23,222.14 L874.19,222.25 L875.15,222.35 L876.11,222.45 L877.06,222.56 L878.02,222.66 L878.98,222.76 L879.94,222.87 L880.89,222.97 L881.85,223.08 L882.81,223.18 L883.77,223.29 L884.72,223.39 L885.68,223.50 L886.64,223.60 L887.60,223.71 L888.55,223.81 L889.51,223.92 L890.47,224.03 L891.43,224.13 L892.38,224.24 L893.34,224.35 L894.30,224.45 L895.25,224.56 L896.21,224.67 L897.17,224.78 L898.13,224.88 L899.08,224.99 L900.04,225.10 L901.00,225.21 L901.96,225.32 L902.91,225.43 L903.87,225.54 L904.83,225.65 L905.79,225.76 L906.74,225.87 L907.70,225.98 L908.66,226.09 L909.62,226.20 L910.57,226.31 L911.53,226.42 L912.49,226.53 L913.45,226.64 L914.40,226.75 L915.36,226.87 L916.32,226.98 L917.27,227.09 L918.23,227.20 L919.19,227.32 L920.15,227.43 L921.10,227.54 L922.06,227.66 L923.02,227.77 L923.98,227.89 L924.93,228.00 L925.89,228.12 L926.85,228.23 L927.81,228.35 L928.76,228.46 L929.72,228.58 L930.68,228.69 L931.64,228.81 L932.59,228.93 L933.55,229.04 L934.51,229.16 L935.47,229.28 L936.42,229.39 L937.38,229.51 L938.34,229.63 L939.30,229.75 L940.25,229.87 L941.21,229.99 L942.17,230.10 L943.12,230.22 L944.08,230.34 L945.04,230.46 L946.00,230.58 L946.95,230.70 L947.91,230.82 L948.87,230.94 L949.83,231.07 L950.78,231.19 L951.74,231.31 L952.70,231.43 L953.66,231.55 L954.61,231.68 L955.57,231.80 L956.53,231.92 L957.49,232.04 L958.44,232.17 L959.40,232.29 L960.36,232.42 L961.32,232.54 L962.27,232.67 L963.23,232.79 L964.19,232.92 L965.14,233.04 L966.10,233.17 L967.06,233.29 L968.02,233.42 L968.97,233.55 L969.93,233.67 L970.89,233.80 L971.85,233.93 L972.80,234.06 L973.76,234.19 L974.72,234.32 L975.68,234.44 L976.63,234.57 L977.59,234.70 L978.55,234.83 L979.51,234.96 L980.46,235.09 L981.42,235.22 L982.38,235.36 L983.34,235.49 L984.29,235.62 L985.25,235.75 L986.21,235.88 L987.17,236.02 L988.12,236.15 L989.08,236.28 L990.04,236.42 L990.99,236.55 L991.95,236.69 L992.91,236.82 L993.87,236.95 L994.82,237.09 L995.78,237.23 L996.74,237.36 L997.70,237.50 L998.65,237.64 L999.61,237.77 L1000.57,237.91 L1001.53,238.05 L1002.48,238.19 L1003.44,238.32 L1004.40,238.46 L1005.36,238.60 L1006.31,238.74 L1007.27,238.88 L1008.23,239.02 L1009.19,239.16 L1010.14,239.30 L1011.10,239.45 L1012.06,239.59 L1013.01,239.73 L1013.97,239.87 L1014.93,240.02 L1015.89,240.16 L1016.84,240.30 L1017.80,240.45 L1018.76,240.59 L1019.72,240.74 L1020.67,240.88 L1021.63,241.03 L1022.59,241.17 L1023.55,241.32 L1024.50,241.47 L1025.46,241.61 L1026.42,241.76 L1027.38,241.91 L1028.33,242.06 L1029.29,242.21 L1030.25,242.36 L1031.21,242.51 L1032.16,242.66 L1033.12,242.81 L1034.08,242.96 L1035.04,243.11 L1035.99,243.26 L1036.95,243.41 L1037.91,243.57 L1038.86,243.72 L1039.82,243.87 L1040.78,244.03 L1041.74,244.18 L1042.69,244.34 L1043.65,244.49 L1044.61,244.65 L1045.57,244.80 L1046.52,244.96 L1047.48,245.12 L1048.44,245.27 L1049.40,245.43 L1050.35,245.59 L1051.31,245.75 L1052.27,245.91 L1053.23,246.07 L1054.18,246.23 L1055.14,246.39 L1056.10,246.55 L1057.06,246.71 L1058.01,246.88 L1058.97,247.04 L1059.93,247.20 L1060.88,247.37 L1061.84,247.53 L1062.80,247.69 L1063.76,247.86 L1064.71,248.03 L1065.67,248.19 L1066.63,248.36 L1067.59,248.53 L1068.54,248.69 L1069.50,248.86 L1070.46,249.03 L1071.42,249.20 L1072.37,249.37 L1073.33,249.54 L1074.29,249.71 L1075.25,249.88 L1076.20,250.06 L1077.16,250.23 L1078.12,250.40 L1079.08,250.58 L1080.03,250.75 L1080.99,250.93 L1081.95,251.10 L1082.91,251.28 L1083.86,251.45 L1084.82,251.63 L1085.78,251.81 L1086.73,251.99 L1087.69,252.17 L1088.65,252.35 L1089.61,252.53 L1090.56,252.71 L1091.52,252.89 L1092.48,253.07 L1093.44,253.25 L1094.39,253.44 L1095.35,253.62 L1096.31,253.80 L1097.27,253.99 L1098.22,254.17 L1099.18,254.36 L1100.14,254.55 L1101.10,254.74 L1102.05,254.92 L1103.01,255.11 L1103.97,255.30 L1104.93,255.49 L1105.88,255.68 L1106.84,255.88 L1107.80,256.07 L1108.76,256.26 L1109.71,256.46 L1110.67,256.65 L1111.63,256.84 L1112.58,257.04 L1113.54,257.24 L1114.50,257.43 L1115.46,257.63 L1116.41,257.83 L1117.37,258.03 L1118.33,258.23 L1119.29,258.43 L1120.24,258.63 L1121.20,258.84 L1122.16,259.04 L1123.12,259.24 L1124.07,259.45 L1125.03,259.65 L1125.99,259.86 L1126.95,260.07 L1127.90,260.28 L1128.86,260.48 L1129.82,260.69 L1130.78,260.90 L1131.73,261.12 L1132.69,261.33 L1133.65,261.54 L1134.60,261.75 L1135.56,261.97 L1136.52,262.18 L1137.48,262.40 L1138.43,262.62 L1139.39,262.83 L1140.35,263.05 L1141.31,263.27 L1142.26,263.49 L1143.22,263.72 L1144.18,263.94 L1145.14,264.16 L1146.09,264.39 L1147.05,264.61 L1148.01,264.84 L1148.97,265.06 L1149.92,265.29 L1150.88,265.52 L1151.84,265.75 L1152.80,265.98 L1153.75,266.22 L1154.71,266.45 L1155.67,266.68 L1156.62,266.92 L1157.58,267.15 L1158.54,267.39 L1159.50,267.63 L1160.45,267.87 L1161.41,268.11 L1162.37,268.35 L1163.33,268.59 L1164.28,268.84 L1165.24,269.08 L1166.20,269.33 L1167.16,269.57 L1168.11,269.82 L1169.07,270.07 L1170.03,270.32 L1170.99,270.57 L1171.94,270.83 L1172.90,271.08 L1173.86,271.33 L1174.82,271.59 L1175.77,271.85 L1176.73,272.11 L1177.69,272.37 L1178.65,272.63 L1179.60,272.89 L1180.56,273.15 L1181.52,273.42 L1182.47,273.69 L1183.43,273.95 L1184.39,274.22 L1185.35,274.49 L1186.30,274.77 L1187.26,275.04 L1188.22,275.31 L1189.18,275.59 L1190.13,275.87 L1191.09,276.14 L1192.05,276.43 L1193.01,276.71 L1193.96,276.99 L1194.92,277.27 L1195.88,277.56 L1196.84,277.85 L1197.79,278.14 L1198.75,278.43 L1199.71,278.72 L1200.67,279.02 L1201.62,279.31 L1202.58,279.61 L1203.54,279.91 L1204.49,280.21 L1205.45,280.51 L1206.41,280.81 L1207.37,281.12 L1208.32,281.43 L1209.28,281.74 L1210.24,282.05 L1211.20,282.36 L1212.15,282.67 L1213.11,282.99 L1214.07,283.31 L1215.03,283.63 L1215.98,283.95 L1216.94,284.27 L1217.90,284.60 L1218.86,284.93 L1219.81,285.26 L1220.77,285.59 L1221.73,285.92 L1222.69,286.26 L1223.64,286.60 L1224.60,286.94 L1225.56,287.28 L1226.52,287.63 L1227.47,287.97 L1228.43,288.32 L1229.39,288.67 L1230.34,289.03 L1231.30,289.38 L1232.26,289.74 L1233.22,290.10 L1234.17,290.46 L1235.13,290.83 L1236.09,291.20 L1237.05,291.57 L1238.00,291.94 L1238.96,292.32 L1239.92,292.70 L1240.88,293.08 L1241.83,293.46 L1242.79,293.85 L1243.75,294.24 L1244.71,294.63 L1245.66,295.03 L1246.62,295.42 L1247.58,295.82 L1248.54,296.23 L1249.49,296.63 L1250.45,297.05 L1251.41,297.46 L1252.37,297.87 L1253.32,298.29 L1254.28,298.72 L1255.24,299.14 L1256.19,299.57 L1257.15,300.01 L1258.11,300.44 L1259.07,300.88 L1260.02,301.33 L1260.98,301.77 L1261.94,302.23 L1262.90,302.68 L1263.85,303.14 L1264.81,303.60 L1265.77,304.07 L1266.73,304.54 L1267.68,305.01 L1268.64,305.49 L1269.60,305.98 L1270.56,306.47 L1271.51,306.96 L1272.47,307.45 L1273.43,307.96 L1274.39,308.46 L1275.34,308.97 L1276.30,309.49" fill="none" stroke="#0000ff" stroke-width="2.9" stroke-linejoin="round" clip-path="url(#cr)"/>
<path d="M797.60,214.58 L798.56,215.09 L799.51,215.60 L800.47,216.11 L801.43,216.61 L802.39,217.11 L803.34,217.60 L804.30,218.09 L805.26,218.57 L806.22,219.05 L807.17,219.53 L808.13,220.00 L809.09,220.46 L810.05,220.93 L811.00,221.38 L811.96,221.84 L812.92,222.29 L813.88,222.74 L814.83,223.18 L815.79,223.62 L816.75,224.06 L817.71,224.49 L818.66,224.92 L819.62,225.35 L820.58,225.77 L821.53,226.19 L822.49,226.61 L823.45,227.02 L824.41,227.43 L825.36,227.84 L826.32,228.24 L827.28,228.64 L828.24,229.04 L829.19,229.44 L830.15,229.83 L831.11,230.22 L832.07,230.60 L833.02,230.99 L833.98,231.37 L834.94,231.75 L835.90,232.12 L836.85,232.50 L837.81,232.87 L838.77,233.23 L839.73,233.60 L840.68,233.96 L841.64,234.32 L842.60,234.68 L843.56,235.04 L844.51,235.39 L845.47,235.74 L846.43,236.09 L847.38,236.44 L848.34,236.78 L849.30,237.13 L850.26,237.47 L851.21,237.81 L852.17,238.14 L853.13,238.48 L854.09,238.81 L855.04,239.14 L856.00,239.47 L856.96,239.79 L857.92,240.12 L858.87,240.44 L859.83,240.76 L860.79,241.08 L861.75,241.39 L862.70,241.71 L863.66,242.02 L864.62,242.33 L865.58,242.64 L866.53,242.95 L867.49,243.25 L868.45,243.56 L869.40,243.86 L870.36,244.16 L871.32,244.46 L872.28,244.75 L873.23,245.05 L874.19,245.34 L875.15,245.64 L876.11,245.93 L877.06,246.22 L878.02,246.50 L878.98,246.79 L879.94,247.08 L880.89,247.36 L881.85,247.64 L882.81,247.92 L883.77,248.20 L884.72,248.48 L885.68,248.75 L886.64,249.03 L887.60,249.30 L888.55,249.57 L889.51,249.84 L890.47,250.11 L891.43,250.38 L892.38,250.65 L893.34,250.91 L894.30,251.17 L895.25,251.44 L896.21,251.70 L897.17,251.96 L898.13,252.22 L899.08,252.47 L900.04,252.73 L901.00,252.99 L901.96,253.24 L902.91,253.49 L903.87,253.74 L904.83,253.99 L905.79,254.24 L906.74,254.49 L907.70,254.74 L908.66,254.98 L909.62,255.23 L910.57,255.47 L911.53,255.72 L912.49,255.96 L913.45,256.20 L914.40,256.44 L915.36,256.67 L916.32,256.91 L917.27,257.15 L918.23,257.38 L919.19,257.62 L920.15,257.85 L921.10,258.08 L922.06,258.31 L923.02,258.54 L923.98,258.77 L924.93,259.00 L925.89,259.23 L926.85,259.45 L927.81,259.68 L928.76,259.90 L929.72,260.13 L930.68,260.35 L931.64,260.57 L932.59,260.79 L933.55,261.01 L934.51,261.23 L935.47,261.45 L936.42,261.67 L937.38,261.88 L938.34,262.10 L939.30,262.31 L940.25,262.53 L941.21,262.74 L942.17,262.95 L943.12,263.16 L944.08,263.37 L945.04,263.58 L946.00,263.79 L946.95,264.00 L947.91,264.21 L948.87,264.41 L949.83,264.62 L950.78,264.82 L951.74,265.03 L952.70,265.23 L953.66,265.43 L954.61,265.63 L955.57,265.83 L956.53,266.03 L957.49,266.23 L958.44,266.43 L959.40,266.63 L960.36,266.83 L961.32,267.02 L962.27,267.22 L963.23,267.42 L964.19,267.61 L965.14,267.80 L966.10,268.00 L967.06,268.19 L968.02,268.38 L968.97,268.57 L969.93,268.76 L970.89,268.95 L971.85,269.14 L972.80,269.33 L973.76,269.52 L974.72,269.70 L975.68,269.89 L976.63,270.08 L977.59,270.26 L978.55,270.45 L979.51,270.63 L980.46,270.81 L981.42,271.00 L982.38,271.18 L983.34,271.36 L984.29,271.54 L985.25,271.72 L986.21,271.90 L987.17,272.08 L988.12,272.26 L989.08,272.43 L990.04,272.61 L990.99,272.79 L991.95,272.96 L992.91,273.14 L993.87,273.32 L994.82,273.49 L995.78,273.66 L996.74,273.84 L997.70,274.01 L998.65,274.18 L999.61,274.35 L1000.57,274.52 L1001.53,274.69 L1002.48,274.86 L1003.44,275.03 L1004.40,275.20 L1005.36,275.37 L1006.31,275.54 L1007.27,275.71 L1008.23,275.87 L1009.19,276.04 L1010.14,276.21 L1011.10,276.37 L1012.06,276.54 L1013.01,276.70 L1013.97,276.86 L1014.93,277.03 L1015.89,277.19 L1016.84,277.35 L1017.80,277.51 L1018.76,277.68 L1019.72,277.84 L1020.67,278.00 L1021.63,278.16 L1022.59,278.32 L1023.55,278.47 L1024.50,278.63 L1025.46,278.79 L1026.42,278.95 L1027.38,279.11 L1028.33,279.26 L1029.29,279.42 L1030.25,279.57 L1031.21,279.73 L1032.16,279.88 L1033.12,280.04 L1034.08,280.19 L1035.04,280.35 L1035.99,280.50 L1036.95,280.65 L1037.91,280.80 L1038.86,280.96 L1039.82,281.11 L1040.78,281.26 L1041.74,281.41 L1042.69,281.56 L1043.65,281.71 L1044.61,281.86 L1045.57,282.01 L1046.52,282.16 L1047.48,282.30 L1048.44,282.45 L1049.40,282.60 L1050.35,282.75 L1051.31,282.89 L1052.27,283.04 L1053.23,283.18 L1054.18,283.33 L1055.14,283.47 L1056.10,283.62 L1057.06,283.76 L1058.01,283.91 L1058.97,284.05 L1059.93,284.19 L1060.88,284.34 L1061.84,284.48 L1062.80,284.62 L1063.76,284.76 L1064.71,284.90 L1065.67,285.04 L1066.63,285.18 L1067.59,285.32 L1068.54,285.46 L1069.50,285.60 L1070.46,285.74 L1071.42,285.88 L1072.37,286.02 L1073.33,286.16 L1074.29,286.29 L1075.25,286.43 L1076.20,286.57 L1077.16,286.70 L1078.12,286.84 L1079.08,286.98 L1080.03,287.11 L1080.99,287.25 L1081.95,287.38 L1082.91,287.51 L1083.86,287.65 L1084.82,287.78 L1085.78,287.92 L1086.73,288.05 L1087.69,288.18 L1088.65,288.31 L1089.61,288.45 L1090.56,288.58 L1091.52,288.71 L1092.48,288.84 L1093.44,288.97 L1094.39,289.10 L1095.35,289.23 L1096.31,289.36 L1097.27,289.49 L1098.22,289.62 L1099.18,289.75 L1100.14,289.88 L1101.10,290.01 L1102.05,290.14 L1103.01,290.26 L1103.97,290.39 L1104.93,290.52 L1105.88,290.64 L1106.84,290.77 L1107.80,290.90 L1108.76,291.02 L1109.71,291.15 L1110.67,291.27 L1111.63,291.40 L1112.58,291.52 L1113.54,291.65 L1114.50,291.77 L1115.46,291.90 L1116.41,292.02 L1117.37,292.14 L1118.33,292.27 L1119.29,292.39 L1120.24,292.51 L1121.20,292.63 L1122.16,292.76 L1123.12,292.88 L1124.07,293.00 L1125.03,293.12 L1125.99,293.24 L1126.95,293.36 L1127.90,293.48 L1128.86,293.60 L1129.82,293.72 L1130.78,293.84 L1131.73,293.96 L1132.69,294.08 L1133.65,294.20 L1134.60,294.32 L1135.56,294.44 L1136.52,294.55 L1137.48,294.67 L1138.43,294.79 L1139.39,294.91 L1140.35,295.02 L1141.31,295.14 L1142.26,295.26 L1143.22,295.37 L1144.18,295.49 L1145.14,295.60 L1146.09,295.72 L1147.05,295.83 L1148.01,295.95 L1148.97,296.06 L1149.92,296.18 L1150.88,296.29 L1151.84,296.41 L1152.80,296.52 L1153.75,296.63 L1154.71,296.75 L1155.67,296.86 L1156.62,296.97 L1157.58,297.09 L1158.54,297.20 L1159.50,297.31 L1160.45,297.42 L1161.41,297.53 L1162.37,297.65 L1163.33,297.76 L1164.28,297.87 L1165.24,297.98 L1166.20,298.09 L1167.16,298.20 L1168.11,298.31 L1169.07,298.42 L1170.03,298.53 L1170.99,298.64 L1171.94,298.75 L1172.90,298.86 L1173.86,298.96 L1174.82,299.07 L1175.77,299.18 L1176.73,299.29 L1177.69,299.40 L1178.65,299.50 L1179.60,299.61 L1180.56,299.72 L1181.52,299.83 L1182.47,299.93 L1183.43,300.04 L1184.39,300.15 L1185.35,300.25 L1186.30,300.36 L1187.26,300.46 L1188.22,300.57 L1189.18,300.67 L1190.13,300.78 L1191.09,300.88 L1192.05,300.99 L1193.01,301.09 L1193.96,301.20 L1194.92,301.30 L1195.88,301.41 L1196.84,301.51 L1197.79,301.61 L1198.75,301.72 L1199.71,301.82 L1200.67,301.92 L1201.62,302.03 L1202.58,302.13 L1203.54,302.23 L1204.49,302.33 L1205.45,302.43 L1206.41,302.54 L1207.37,302.64 L1208.32,302.74 L1209.28,302.84 L1210.24,302.94 L1211.20,303.04 L1212.15,303.14 L1213.11,303.24 L1214.07,303.34 L1215.03,303.44 L1215.98,303.54 L1216.94,303.64 L1217.90,303.74 L1218.86,303.84 L1219.81,303.94 L1220.77,304.04 L1221.73,304.14 L1222.69,304.24 L1223.64,304.34 L1224.60,304.43 L1225.56,304.53 L1226.52,304.63 L1227.47,304.73 L1228.43,304.83 L1229.39,304.92 L1230.34,305.02 L1231.30,305.12 L1232.26,305.21 L1233.22,305.31 L1234.17,305.41 L1235.13,305.50 L1236.09,305.60 L1237.05,305.69 L1238.00,305.79 L1238.96,305.89 L1239.92,305.98 L1240.88,306.08 L1241.83,306.17 L1242.79,306.27 L1243.75,306.36 L1244.71,306.46 L1245.66,306.55 L1246.62,306.65 L1247.58,306.74 L1248.54,306.83 L1249.49,306.93 L1250.45,307.02 L1251.41,307.11 L1252.37,307.21 L1253.32,307.30 L1254.28,307.39 L1255.24,307.49 L1256.19,307.58 L1257.15,307.67 L1258.11,307.76 L1259.07,307.86 L1260.02,307.95 L1260.98,308.04 L1261.94,308.13 L1262.90,308.22 L1263.85,308.31 L1264.81,308.41 L1265.77,308.50 L1266.73,308.59 L1267.68,308.68 L1268.64,308.77 L1269.60,308.86 L1270.56,308.95 L1271.51,309.04 L1272.47,309.13 L1273.43,309.22 L1274.39,309.31 L1275.34,309.40 L1276.30,309.49" fill="none" stroke="#0000ff" stroke-width="2.9" stroke-linejoin="round" stroke-dasharray="10.6 4.3" stroke-dashoffset="1.86" clip-path="url(#cr)"/>
<line x1="103.0" y1="15.00" x2="108.5" y2="15.00" stroke="#000" stroke-width="1.9"/>
<line x1="103.00" y1="509.5" x2="103.00" y2="504.0" stroke="#000" stroke-width="1.9"/>
<line x1="103.0" y1="138.62" x2="108.5" y2="138.62" stroke="#000" stroke-width="1.9"/>
<line x1="226.75" y1="509.5" x2="226.75" y2="504.0" stroke="#000" stroke-width="1.9"/>
<line x1="103.0" y1="262.25" x2="108.5" y2="262.25" stroke="#000" stroke-width="1.9"/>
<line x1="350.50" y1="509.5" x2="350.50" y2="504.0" stroke="#000" stroke-width="1.9"/>
<line x1="103.0" y1="385.88" x2="108.5" y2="385.88" stroke="#000" stroke-width="1.9"/>
<line x1="474.25" y1="509.5" x2="474.25" y2="504.0" stroke="#000" stroke-width="1.9"/>
<line x1="103.0" y1="509.50" x2="108.5" y2="509.50" stroke="#000" stroke-width="1.9"/>
<line x1="598.00" y1="509.5" x2="598.00" y2="504.0" stroke="#000" stroke-width="1.9"/>
<rect x="103.0" y="15.0" width="495.0" height="494.5" fill="none" stroke="#000" stroke-width="2.3"/>
<text x="76.35" y="28.20" font-size="40">0</text>
<text x="52.99" y="154.82" font-size="40">−</text>
<path d="M763 0H583V1147Q518 1085 412.5 1023T223 930V1104Q373 1175 485.5 1274T645 1466H763Z" transform="translate(76.35,151.82) scale(0.01953,-0.01953)" fill="#000"/>
<text x="52.99" y="278.45" font-size="40">−</text>
<text x="76.35" y="275.45" font-size="40">2</text>
<text x="52.99" y="402.07" font-size="40">−</text>
<text x="76.35" y="399.07" font-size="40">3</text>
<text x="52.99" y="525.70" font-size="40">−</text>
<text x="76.35" y="522.70" font-size="40">4</text>
<text x="91.88" y="550.30" font-size="40">0</text>
<path d="M763 0H583V1147Q518 1085 412.5 1023T223 930V1104Q373 1175 485.5 1274T645 1466H763Z" transform="translate(215.63,550.30) scale(0.01953,-0.01953)" fill="#000"/>
<text x="339.38" y="550.30" font-size="40">2</text>
<text x="463.13" y="550.30" font-size="40">3</text>
<text x="586.88" y="550.30" font-size="40">4</text>
<text x="271.86" y="603.30" font-size="40">Log</text>
<path d="M763 0H583V1147Q518 1085 412.5 1023T223 930V1104Q373 1175 485.5 1274T645 1466H763Z" transform="translate(338.59,610.80) scale(0.01343,-0.01343)" fill="#000"/>
<text x="353.89" y="610.80" font-size="27.5">0</text>
<text x="369.18" y="603.30" font-size="40">(M)</text>
<g transform="translate(29.2,262.3) rotate(-90)">
<text x="-94.54" y="0.00" font-size="40">Log</text>
<path d="M763 0H583V1147Q518 1085 412.5 1023T223 930V1104Q373 1175 485.5 1274T645 1466H763Z" transform="translate(-27.80,8.00) scale(0.01343,-0.01343)" fill="#000"/>
<text x="-12.50" y="8.00" font-size="27.5">0</text>
<text x="3.59" y="0.00" font-size="40">(</text>
<path d="M37.51,-10.72 L37.73,-12.05 L37.74,-13.34 L37.55,-14.57 L37.16,-15.70 L36.57,-16.72 L35.81,-17.58 L34.89,-18.28 L33.83,-18.78 L32.67,-19.10 L31.43,-19.20 L30.13,-19.10 L28.82,-18.78 L27.52,-18.28 L26.26,-17.58 L25.09,-16.72 L24.02,-15.70 L23.08,-14.57 L22.30,-13.34 L21.69,-12.05 L21.27,-10.72 L21.05,-9.39 L21.04,-8.10 L21.23,-6.87 L21.62,-5.74 L22.21,-4.72 L22.97,-3.86 L23.89,-3.16 L24.95,-2.66 L26.11,-2.34 L27.35,-2.24 L28.65,-2.34 L29.96,-2.66 L31.26,-3.16 L32.52,-3.86 L33.69,-4.72 L34.76,-5.74 L35.70,-6.87 L36.48,-8.10 L37.09,-9.39Z M34.91,-18.20 C32.11,-22.00 27.31,-24.40 27.51,-27.40 C27.71,-29.80 30.91,-29.48 34.51,-29.48 L41.71,-29.68" fill="none" stroke="#000" stroke-width="3.52"/>
<path d="M56.74,-10.48 L56.93,-11.87 L56.94,-13.22 L56.77,-14.51 L56.42,-15.70 L55.91,-16.76 L55.24,-17.66 L54.43,-18.39 L53.51,-18.93 L52.48,-19.25 L51.39,-19.36 L50.26,-19.25 L49.11,-18.93 L47.97,-18.39 L46.87,-17.66 L45.84,-16.76 L44.90,-15.70 L44.08,-14.51 L43.39,-13.22 L42.86,-11.87 L42.50,-10.48 L42.31,-9.09 L42.30,-7.74 L42.47,-6.45 L42.81,-5.26 L43.33,-4.20 L43.99,-3.30 L44.80,-2.57 L45.73,-2.03 L46.75,-1.71 L47.84,-1.60 L48.98,-1.71 L50.13,-2.03 L51.27,-2.57 L52.36,-3.30 L53.40,-4.20 L54.33,-5.26 L55.15,-6.45 L55.84,-7.74 L56.37,-9.09Z M62.14,-20.60 C60.34,-14.40 58.54,-9.20 58.14,-5.60 C57.94,-2.00 59.94,-1.40 62.54,-2.60" fill="none" stroke="#000" stroke-width="3.36"/>
<text x="64.75" y="8.00" font-size="27.5" class="i">η</text>
<text x="81.22" y="0.00" font-size="40">)</text>
</g>
<line x1="797.60" y1="512.7" x2="797.60" y2="507.70000000000005" stroke="#000" stroke-width="1.6"/>
<line x1="797.60" y1="15.4" x2="797.60" y2="20.4" stroke="#888" stroke-width="0.9"/>
<line x1="821.53" y1="512.7" x2="821.53" y2="509.90000000000003" stroke="#000" stroke-width="1.6"/>
<line x1="821.53" y1="15.4" x2="821.53" y2="18.2" stroke="#888" stroke-width="0.9"/>
<line x1="845.47" y1="512.7" x2="845.47" y2="509.90000000000003" stroke="#000" stroke-width="1.6"/>
<line x1="845.47" y1="15.4" x2="845.47" y2="18.2" stroke="#888" stroke-width="0.9"/>
<line x1="869.40" y1="512.7" x2="869.40" y2="509.90000000000003" stroke="#000" stroke-width="1.6"/>
<line x1="869.40" y1="15.4" x2="869.40" y2="18.2" stroke="#888" stroke-width="0.9"/>
<line x1="893.34" y1="512.7" x2="893.34" y2="507.70000000000005" stroke="#000" stroke-width="1.6"/>
<line x1="893.34" y1="15.4" x2="893.34" y2="20.4" stroke="#888" stroke-width="0.9"/>
<line x1="917.27" y1="512.7" x2="917.27" y2="509.90000000000003" stroke="#000" stroke-width="1.6"/>
<line x1="917.27" y1="15.4" x2="917.27" y2="18.2" stroke="#888" stroke-width="0.9"/>
<line x1="941.21" y1="512.7" x2="941.21" y2="509.90000000000003" stroke="#000" stroke-width="1.6"/>
<line x1="941.21" y1="15.4" x2="941.21" y2="18.2" stroke="#888" stroke-width="0.9"/>
<line x1="965.14" y1="512.7" x2="965.14" y2="509.90000000000003" stroke="#000" stroke-width="1.6"/>
<line x1="965.14" y1="15.4" x2="965.14" y2="18.2" stroke="#888" stroke-width="0.9"/>
<line x1="989.08" y1="512.7" x2="989.08" y2="507.70000000000005" stroke="#000" stroke-width="1.6"/>
<line x1="989.08" y1="15.4" x2="989.08" y2="20.4" stroke="#888" stroke-width="0.9"/>
<line x1="1013.01" y1="512.7" x2="1013.01" y2="509.90000000000003" stroke="#000" stroke-width="1.6"/>
<line x1="1013.01" y1="15.4" x2="1013.01" y2="18.2" stroke="#888" stroke-width="0.9"/>
<line x1="1036.95" y1="512.7" x2="1036.95" y2="509.90000000000003" stroke="#000" stroke-width="1.6"/>
<line x1="1036.95" y1="15.4" x2="1036.95" y2="18.2" stroke="#888" stroke-width="0.9"/>
<line x1="1060.88" y1="512.7" x2="1060.88" y2="509.90000000000003" stroke="#000" stroke-width="1.6"/>
<line x1="1060.88" y1="15.4" x2="1060.88" y2="18.2" stroke="#888" stroke-width="0.9"/>
<line x1="1084.82" y1="512.7" x2="1084.82" y2="507.70000000000005" stroke="#000" stroke-width="1.6"/>
<line x1="1084.82" y1="15.4" x2="1084.82" y2="20.4" stroke="#888" stroke-width="0.9"/>
<line x1="1108.76" y1="512.7" x2="1108.76" y2="509.90000000000003" stroke="#000" stroke-width="1.6"/>
<line x1="1108.76" y1="15.4" x2="1108.76" y2="18.2" stroke="#888" stroke-width="0.9"/>
<line x1="1132.69" y1="512.7" x2="1132.69" y2="509.90000000000003" stroke="#000" stroke-width="1.6"/>
<line x1="1132.69" y1="15.4" x2="1132.69" y2="18.2" stroke="#888" stroke-width="0.9"/>
<line x1="1156.62" y1="512.7" x2="1156.62" y2="509.90000000000003" stroke="#000" stroke-width="1.6"/>
<line x1="1156.62" y1="15.4" x2="1156.62" y2="18.2" stroke="#888" stroke-width="0.9"/>
<line x1="1180.56" y1="512.7" x2="1180.56" y2="507.70000000000005" stroke="#000" stroke-width="1.6"/>
<line x1="1180.56" y1="15.4" x2="1180.56" y2="20.4" stroke="#888" stroke-width="0.9"/>
<line x1="1204.49" y1="512.7" x2="1204.49" y2="509.90000000000003" stroke="#000" stroke-width="1.6"/>
<line x1="1204.49" y1="15.4" x2="1204.49" y2="18.2" stroke="#888" stroke-width="0.9"/>
<line x1="1228.43" y1="512.7" x2="1228.43" y2="509.90000000000003" stroke="#000" stroke-width="1.6"/>
<line x1="1228.43" y1="15.4" x2="1228.43" y2="18.2" stroke="#888" stroke-width="0.9"/>
<line x1="1252.37" y1="512.7" x2="1252.37" y2="509.90000000000003" stroke="#000" stroke-width="1.6"/>
<line x1="1252.37" y1="15.4" x2="1252.37" y2="18.2" stroke="#888" stroke-width="0.9"/>
<line x1="1276.30" y1="512.7" x2="1276.30" y2="507.70000000000005" stroke="#000" stroke-width="1.6"/>
<line x1="1276.30" y1="15.4" x2="1276.30" y2="20.4" stroke="#888" stroke-width="0.9"/>
<line x1="788.3" y1="15.40" x2="793.3" y2="15.40" stroke="#000" stroke-width="1.6"/>
<line x1="1286.2" y1="15.40" x2="1281.2" y2="15.40" stroke="#888" stroke-width="0.9"/>
<line x1="788.3" y1="40.27" x2="791.0999999999999" y2="40.27" stroke="#000" stroke-width="1.6"/>
<line x1="1286.2" y1="40.27" x2="1283.4" y2="40.27" stroke="#888" stroke-width="0.9"/>
<line x1="788.3" y1="65.13" x2="791.0999999999999" y2="65.13" stroke="#000" stroke-width="1.6"/>
<line x1="1286.2" y1="65.13" x2="1283.4" y2="65.13" stroke="#888" stroke-width="0.9"/>
<line x1="788.3" y1="90.00" x2="791.0999999999999" y2="90.00" stroke="#000" stroke-width="1.6"/>
<line x1="1286.2" y1="90.00" x2="1283.4" y2="90.00" stroke="#888" stroke-width="0.9"/>
<line x1="788.3" y1="114.86" x2="791.0999999999999" y2="114.86" stroke="#000" stroke-width="1.6"/>
<line x1="1286.2" y1="114.86" x2="1283.4" y2="114.86" stroke="#888" stroke-width="0.9"/>
<line x1="788.3" y1="139.73" x2="793.3" y2="139.73" stroke="#000" stroke-width="1.6"/>
<line x1="1286.2" y1="139.73" x2="1281.2" y2="139.73" stroke="#888" stroke-width="0.9"/>
<line x1="788.3" y1="164.59" x2="791.0999999999999" y2="164.59" stroke="#000" stroke-width="1.6"/>
<line x1="1286.2" y1="164.59" x2="1283.4" y2="164.59" stroke="#888" stroke-width="0.9"/>
<line x1="788.3" y1="189.46" x2="791.0999999999999" y2="189.46" stroke="#000" stroke-width="1.6"/>
<line x1="1286.2" y1="189.46" x2="1283.4" y2="189.46" stroke="#888" stroke-width="0.9"/>
<line x1="788.3" y1="214.32" x2="791.0999999999999" y2="214.32" stroke="#000" stroke-width="1.6"/>
<line x1="1286.2" y1="214.32" x2="1283.4" y2="214.32" stroke="#888" stroke-width="0.9"/>
<line x1="788.3" y1="239.19" x2="791.0999999999999" y2="239.19" stroke="#000" stroke-width="1.6"/>
<line x1="1286.2" y1="239.19" x2="1283.4" y2="239.19" stroke="#888" stroke-width="0.9"/>
<line x1="788.3" y1="264.05" x2="793.3" y2="264.05" stroke="#000" stroke-width="1.6"/>
<line x1="1286.2" y1="264.05" x2="1281.2" y2="264.05" stroke="#888" stroke-width="0.9"/>
<line x1="788.3" y1="288.92" x2="791.0999999999999" y2="288.92" stroke="#000" stroke-width="1.6"/>
<line x1="1286.2" y1="288.92" x2="1283.4" y2="288.92" stroke="#888" stroke-width="0.9"/>
<line x1="788.3" y1="313.78" x2="791.0999999999999" y2="313.78" stroke="#000" stroke-width="1.6"/>
<line x1="1286.2" y1="313.78" x2="1283.4" y2="313.78" stroke="#888" stroke-width="0.9"/>
<line x1="788.3" y1="338.65" x2="791.0999999999999" y2="338.65" stroke="#000" stroke-width="1.6"/>
<line x1="1286.2" y1="338.65" x2="1283.4" y2="338.65" stroke="#888" stroke-width="0.9"/>
<line x1="788.3" y1="363.51" x2="791.0999999999999" y2="363.51" stroke="#000" stroke-width="1.6"/>
<line x1="1286.2" y1="363.51" x2="1283.4" y2="363.51" stroke="#888" stroke-width="0.9"/>
<line x1="788.3" y1="388.38" x2="793.3" y2="388.38" stroke="#000" stroke-width="1.6"/>
<line x1="1286.2" y1="388.38" x2="1281.2" y2="388.38" stroke="#888" stroke-width="0.9"/>
<line x1="788.3" y1="413.24" x2="791.0999999999999" y2="413.24" stroke="#000" stroke-width="1.6"/>
<line x1="1286.2" y1="413.24" x2="1283.4" y2="413.24" stroke="#888" stroke-width="0.9"/>
<line x1="788.3" y1="438.11" x2="791.0999999999999" y2="438.11" stroke="#000" stroke-width="1.6"/>
<line x1="1286.2" y1="438.11" x2="1283.4" y2="438.11" stroke="#888" stroke-width="0.9"/>
<line x1="788.3" y1="462.97" x2="791.0999999999999" y2="462.97" stroke="#000" stroke-width="1.6"/>
<line x1="1286.2" y1="462.97" x2="1283.4" y2="462.97" stroke="#888" stroke-width="0.9"/>
<line x1="788.3" y1="487.84" x2="791.0999999999999" y2="487.84" stroke="#000" stroke-width="1.6"/>
<line x1="1286.2" y1="487.84" x2="1283.4" y2="487.84" stroke="#888" stroke-width="0.9"/>
<line x1="788.3" y1="512.70" x2="793.3" y2="512.70" stroke="#000" stroke-width="1.6"/>
<line x1="1286.2" y1="512.70" x2="1281.2" y2="512.70" stroke="#888" stroke-width="0.9"/>
<rect x="788.3" y="15.4" width="497.9000000000001" height="497.30000000000007" fill="none" stroke="#000" stroke-width="2.3"/>
<text x="729.77" y="27.30" font-size="38">0.0</text>
<text x="707.58" y="154.63" font-size="38">−</text>
<text x="729.77" y="151.63" font-size="38">0.5</text>
<text x="707.58" y="278.95" font-size="38">−</text>
<path d="M763 0H583V1147Q518 1085 412.5 1023T223 930V1104Q373 1175 485.5 1274T645 1466H763Z" transform="translate(729.77,275.95) scale(0.01855,-0.01855)" fill="#000"/>
<text x="750.91" y="275.95" font-size="38">.0</text>
<text x="707.58" y="403.27" font-size="38">−</text>
<path d="M763 0H583V1147Q518 1085 412.5 1023T223 930V1104Q373 1175 485.5 1274T645 1466H763Z" transform="translate(729.77,400.27) scale(0.01855,-0.01855)" fill="#000"/>
<text x="750.91" y="400.27" font-size="38">.5</text>
<text x="707.58" y="527.60" font-size="38">−</text>
<text x="729.77" y="524.60" font-size="38">2.0</text>
<text x="771.19" y="552.00" font-size="38">0.0</text>
<text x="866.93" y="552.00" font-size="38">0.2</text>
<text x="962.67" y="552.00" font-size="38">0.4</text>
<text x="1058.41" y="552.00" font-size="38">0.6</text>
<text x="1154.15" y="552.00" font-size="38">0.8</text>
<path d="M763 0H583V1147Q518 1085 412.5 1023T223 930V1104Q373 1175 485.5 1274T645 1466H763Z" transform="translate(1249.89,552.00) scale(0.01855,-0.01855)" fill="#000"/>
<text x="1271.02" y="552.00" font-size="38">.0</text>
<text x="1039.5" y="604.5" font-size="38" text-anchor="middle" class="i">η</text>
<g transform="translate(686.8,265.2) rotate(-90)">
<text x="-82.54" y="0.00" font-size="39">Log</text>
<path d="M763 0H583V1147Q518 1085 412.5 1023T223 930V1104Q373 1175 485.5 1274T645 1466H763Z" transform="translate(-17.48,7.50) scale(0.01318,-0.01318)" fill="#000"/>
<text x="-3.66" y="7.50" font-size="27">0</text>
<text x="11.36" y="0.00" font-size="39">(</text>
<path d="M44.45,-10.45 L44.66,-11.75 L44.68,-13.01 L44.49,-14.21 L44.10,-15.31 L43.53,-16.30 L42.79,-17.14 L41.89,-17.82 L40.87,-18.32 L39.73,-18.62 L38.52,-18.72 L37.25,-18.62 L35.97,-18.32 L34.71,-17.82 L33.48,-17.14 L32.34,-16.30 L31.29,-15.31 L30.38,-14.21 L29.62,-13.01 L29.02,-11.75 L28.62,-10.45 L28.40,-9.16 L28.39,-7.90 L28.58,-6.70 L28.96,-5.59 L29.53,-4.61 L30.27,-3.76 L31.17,-3.09 L32.20,-2.59 L33.33,-2.29 L34.55,-2.18 L35.81,-2.29 L37.09,-2.59 L38.36,-3.09 L39.58,-3.76 L40.73,-4.61 L41.77,-5.59 L42.69,-6.70 L43.45,-7.90 L44.04,-9.16Z M41.91,-17.75 C39.18,-21.45 34.50,-23.79 34.70,-26.72 C34.89,-29.05 38.01,-28.74 41.52,-28.74 L48.54,-28.94" fill="none" stroke="#000" stroke-width="3.43"/>
<path d="M63.65,-10.22 L63.83,-11.57 L63.84,-12.89 L63.67,-14.15 L63.34,-15.31 L62.84,-16.34 L62.18,-17.22 L61.40,-17.93 L60.50,-18.45 L59.50,-18.77 L58.43,-18.88 L57.33,-18.77 L56.21,-18.45 L55.09,-17.93 L54.02,-17.22 L53.02,-16.34 L52.10,-15.31 L51.30,-14.15 L50.64,-12.89 L50.12,-11.57 L49.76,-10.22 L49.58,-8.86 L49.57,-7.54 L49.73,-6.29 L50.07,-5.13 L50.57,-4.10 L51.22,-3.21 L52.01,-2.50 L52.91,-1.98 L53.91,-1.67 L54.97,-1.56 L56.08,-1.67 L57.20,-1.98 L58.31,-2.50 L59.38,-3.21 L60.39,-4.10 L61.30,-5.13 L62.10,-6.29 L62.77,-7.54 L63.29,-8.86Z M68.91,-20.09 C67.16,-14.04 65.40,-8.97 65.01,-5.46 C64.82,-1.95 66.77,-1.37 69.30,-2.54" fill="none" stroke="#000" stroke-width="3.28"/>
<text x="69.56" y="0.00" font-size="39">)</text>
</g>
<line x1="321.5" y1="47.5" x2="388" y2="47.5" stroke="#000" stroke-width="2.5" stroke-dasharray="9.7 4.4"/>
<path d="M425.88,50.66 L426.06,49.56 L426.07,48.49 L425.92,47.48 L425.59,46.54 L425.11,45.71 L424.48,45.00 L423.72,44.42 L422.85,44.00 L421.89,43.75 L420.86,43.66 L419.79,43.75 L418.71,44.00 L417.64,44.42 L416.61,45.00 L415.63,45.71 L414.75,46.54 L413.98,47.48 L413.33,48.49 L412.83,49.56 L412.49,50.66 L412.31,51.75 L412.29,52.82 L412.45,53.83 L412.78,54.77 L413.26,55.60 L413.89,56.32 L414.65,56.89 L415.52,57.31 L416.48,57.57 L417.51,57.65 L418.57,57.57 L419.66,57.31 L420.73,56.89 L421.76,56.32 L422.73,55.60 L423.62,54.77 L424.39,53.83 L425.04,52.82 L425.54,51.75Z M423.74,44.48 C421.43,41.35 417.47,39.37 417.63,36.89 C417.80,34.91 420.44,35.18 423.41,35.18 L429.35,35.01" fill="none" stroke="#000" stroke-width="2.90"/>
<path d="M443.98,50.85 L444.13,49.71 L444.14,48.59 L444.00,47.53 L443.72,46.55 L443.29,45.67 L442.74,44.93 L442.07,44.33 L441.31,43.89 L440.47,43.62 L439.57,43.53 L438.63,43.62 L437.68,43.89 L436.74,44.33 L435.84,44.93 L434.99,45.67 L434.21,46.55 L433.53,47.53 L432.97,48.59 L432.53,49.71 L432.23,50.85 L432.07,52.00 L432.06,53.12 L432.20,54.18 L432.49,55.16 L432.91,56.03 L433.46,56.78 L434.13,57.38 L434.89,57.82 L435.74,58.09 L436.64,58.18 L437.57,58.09 L438.52,57.82 L439.46,57.38 L440.37,56.78 L441.22,56.03 L441.99,55.16 L442.67,54.18 L443.24,53.12 L443.68,52.00Z M448.43,42.50 C446.95,47.62 445.46,51.91 445.13,54.88 C444.97,57.85 446.62,58.34 448.76,57.35" fill="none" stroke="#000" stroke-width="2.77"/>
<text x="450.11" y="44.70" font-size="23">P</text>
<text x="451.61" y="67.10" font-size="23" class="i">η</text>
<text x="466.83" y="59.50" font-size="33">,</text>
<text x="478.30" y="59.50" font-size="33" class="i">η</text>
<rect x="497.07" y="45.51" width="16.10" height="2.90" fill="#000"/><rect x="497.07" y="52.70" width="16.10" height="2.90" fill="#000"/>
<path d="M763 0H583V1147Q518 1085 412.5 1023T223 930V1104Q373 1175 485.5 1274T645 1466H763Z" transform="translate(515.69,59.50) scale(0.01611,-0.01611)" fill="#000"/>
<line x1="321.5" y1="121.3" x2="388" y2="121.3" stroke="#808080" stroke-width="2.5" stroke-dasharray="9.7 4.4"/>
<path d="M425.88,124.46 L426.06,123.36 L426.07,122.29 L425.92,121.28 L425.59,120.34 L425.11,119.51 L424.48,118.80 L423.72,118.22 L422.85,117.80 L421.89,117.55 L420.86,117.46 L419.79,117.55 L418.71,117.80 L417.64,118.22 L416.61,118.80 L415.63,119.51 L414.75,120.34 L413.98,121.28 L413.33,122.29 L412.83,123.36 L412.49,124.46 L412.31,125.55 L412.29,126.62 L412.45,127.63 L412.78,128.57 L413.26,129.40 L413.89,130.12 L414.65,130.69 L415.52,131.11 L416.48,131.37 L417.51,131.45 L418.57,131.37 L419.66,131.11 L420.73,130.69 L421.76,130.12 L422.73,129.40 L423.62,128.57 L424.39,127.63 L425.04,126.62 L425.54,125.55Z M423.74,118.29 C421.43,115.15 417.47,113.17 417.63,110.70 C417.80,108.72 420.44,108.98 423.41,108.98 L429.35,108.81" fill="none" stroke="#000" stroke-width="2.90"/>
<path d="M443.98,124.65 L444.13,123.51 L444.14,122.39 L444.00,121.33 L443.72,120.35 L443.29,119.47 L442.74,118.73 L442.07,118.13 L441.31,117.69 L440.47,117.42 L439.57,117.33 L438.63,117.42 L437.68,117.69 L436.74,118.13 L435.84,118.73 L434.99,119.47 L434.21,120.35 L433.53,121.33 L432.97,122.39 L432.53,123.51 L432.23,124.65 L432.07,125.80 L432.06,126.92 L432.20,127.98 L432.49,128.96 L432.91,129.83 L433.46,130.58 L434.13,131.18 L434.89,131.62 L435.74,131.89 L436.64,131.98 L437.57,131.89 L438.52,131.62 L439.46,131.18 L440.37,130.58 L441.22,129.83 L441.99,128.96 L442.67,127.98 L443.24,126.92 L443.68,125.80Z M448.43,116.31 C446.95,121.42 445.46,125.71 445.13,128.68 C444.97,131.65 446.62,132.15 448.76,131.16" fill="none" stroke="#000" stroke-width="2.77"/>
<text x="450.11" y="118.50" font-size="23">P</text>
<text x="451.61" y="140.90" font-size="23" class="i">η</text>
<text x="466.83" y="133.30" font-size="33">,</text>
<text x="478.30" y="133.30" font-size="33" class="i">η</text>
<rect x="497.07" y="119.31" width="16.10" height="2.90" fill="#000"/><rect x="497.07" y="126.50" width="16.10" height="2.90" fill="#000"/>
<text x="515.69" y="133.30" font-size="33">0</text>
<text x="533.34" y="133.30" font-size="33">.</text>
<text x="541.81" y="133.30" font-size="33">9</text>
<text x="559.47" y="133.30" font-size="33">9</text>
<line x1="321.5" y1="195.4" x2="388" y2="195.4" stroke="#0000ff" stroke-width="2.5" stroke-dasharray="9.7 4.4"/>
<path d="M425.88,198.16 L426.06,197.06 L426.07,195.99 L425.92,194.98 L425.59,194.04 L425.11,193.21 L424.48,192.50 L423.72,191.92 L422.85,191.50 L421.89,191.25 L420.86,191.16 L419.79,191.25 L418.71,191.50 L417.64,191.92 L416.61,192.50 L415.63,193.21 L414.75,194.04 L413.98,194.98 L413.33,195.99 L412.83,197.06 L412.49,198.16 L412.31,199.25 L412.29,200.32 L412.45,201.33 L412.78,202.27 L413.26,203.10 L413.89,203.82 L414.65,204.39 L415.52,204.81 L416.48,205.07 L417.51,205.15 L418.57,205.07 L419.66,204.81 L420.73,204.39 L421.76,203.82 L422.73,203.10 L423.62,202.27 L424.39,201.33 L425.04,200.32 L425.54,199.25Z M423.74,191.99 C421.43,188.85 417.47,186.87 417.63,184.40 C417.80,182.41 420.44,182.68 423.41,182.68 L429.35,182.51" fill="none" stroke="#000" stroke-width="2.90"/>
<path d="M443.98,198.35 L444.13,197.21 L444.14,196.09 L444.00,195.03 L443.72,194.05 L443.29,193.17 L442.74,192.43 L442.07,191.83 L441.31,191.39 L440.47,191.12 L439.57,191.03 L438.63,191.12 L437.68,191.39 L436.74,191.83 L435.84,192.43 L434.99,193.17 L434.21,194.05 L433.53,195.03 L432.97,196.09 L432.53,197.21 L432.23,198.35 L432.07,199.50 L432.06,200.62 L432.20,201.68 L432.49,202.66 L432.91,203.53 L433.46,204.28 L434.13,204.88 L434.89,205.32 L435.74,205.59 L436.64,205.68 L437.57,205.59 L438.52,205.32 L439.46,204.88 L440.37,204.28 L441.22,203.53 L441.99,202.66 L442.67,201.68 L443.24,200.62 L443.68,199.50Z M448.43,190.00 C446.95,195.12 445.46,199.41 445.13,202.38 C444.97,205.35 446.62,205.84 448.76,204.85" fill="none" stroke="#000" stroke-width="2.77"/>
<text x="450.11" y="192.20" font-size="23">P</text>
<text x="451.61" y="214.60" font-size="23" class="i">η</text>
<text x="466.83" y="207.00" font-size="33">,</text>
<text x="478.30" y="207.00" font-size="33" class="i">η</text>
<rect x="497.07" y="193.01" width="16.10" height="2.90" fill="#000"/><rect x="497.07" y="200.20" width="16.10" height="2.90" fill="#000"/>
<text x="515.69" y="207.00" font-size="33">0</text>
<text x="533.34" y="207.00" font-size="33">.</text>
<text x="541.81" y="207.00" font-size="33">9</text>
<text x="559.47" y="207.00" font-size="33">5</text>
<text x="544.60" y="44.40" font-size="36">(a)</text>
<line x1="116" y1="296.8" x2="150.3" y2="296.8" stroke="#000" stroke-width="2.6"/>
<path d="M185.08,300.16 L185.26,299.06 L185.27,297.99 L185.12,296.98 L184.79,296.04 L184.31,295.21 L183.68,294.50 L182.92,293.92 L182.05,293.50 L181.09,293.25 L180.06,293.16 L178.99,293.25 L177.91,293.50 L176.84,293.92 L175.81,294.50 L174.83,295.21 L173.95,296.04 L173.18,296.98 L172.53,297.99 L172.03,299.06 L171.69,300.16 L171.51,301.25 L171.49,302.32 L171.65,303.33 L171.98,304.27 L172.46,305.10 L173.09,305.82 L173.85,306.39 L174.72,306.81 L175.68,307.07 L176.71,307.15 L177.77,307.07 L178.86,306.81 L179.93,306.39 L180.96,305.82 L181.93,305.10 L182.82,304.27 L183.59,303.33 L184.24,302.32 L184.74,301.25Z M182.94,293.99 C180.63,290.85 176.67,288.87 176.83,286.39 C177.00,284.42 179.64,284.68 182.61,284.68 L188.55,284.51" fill="none" stroke="#000" stroke-width="2.90"/>
<path d="M203.18,300.35 L203.33,299.21 L203.34,298.09 L203.20,297.03 L202.92,296.05 L202.49,295.17 L201.94,294.43 L201.27,293.83 L200.51,293.39 L199.67,293.12 L198.77,293.03 L197.83,293.12 L196.88,293.39 L195.94,293.83 L195.04,294.43 L194.19,295.17 L193.41,296.05 L192.73,297.03 L192.17,298.09 L191.73,299.21 L191.43,300.35 L191.27,301.50 L191.26,302.62 L191.40,303.68 L191.69,304.66 L192.11,305.53 L192.66,306.28 L193.33,306.88 L194.09,307.32 L194.94,307.59 L195.84,307.68 L196.77,307.59 L197.72,307.32 L198.66,306.88 L199.57,306.28 L200.42,305.53 L201.19,304.66 L201.87,303.68 L202.44,302.62 L202.88,301.50Z M207.63,292.00 C206.15,297.12 204.66,301.41 204.33,304.38 C204.17,307.35 205.82,307.85 207.96,306.86" fill="none" stroke="#000" stroke-width="2.77"/>
<text x="209.31" y="294.20" font-size="23">E</text>
<text x="210.81" y="316.60" font-size="23" class="i">η</text>
<text x="226.03" y="309.00" font-size="33">,</text>
<text x="237.50" y="309.00" font-size="33" class="i">η</text>
<rect x="256.27" y="295.01" width="16.10" height="2.90" fill="#000"/><rect x="256.27" y="302.20" width="16.10" height="2.90" fill="#000"/>
<path d="M763 0H583V1147Q518 1085 412.5 1023T223 930V1104Q373 1175 485.5 1274T645 1466H763Z" transform="translate(274.89,309.00) scale(0.01611,-0.01611)" fill="#000"/>
<line x1="116" y1="370.6" x2="150.3" y2="370.6" stroke="#808080" stroke-width="2.6"/>
<path d="M185.08,373.96 L185.26,372.86 L185.27,371.79 L185.12,370.78 L184.79,369.84 L184.31,369.01 L183.68,368.30 L182.92,367.72 L182.05,367.30 L181.09,367.05 L180.06,366.96 L178.99,367.05 L177.91,367.30 L176.84,367.72 L175.81,368.30 L174.83,369.01 L173.95,369.84 L173.18,370.78 L172.53,371.79 L172.03,372.86 L171.69,373.96 L171.51,375.05 L171.49,376.12 L171.65,377.13 L171.98,378.07 L172.46,378.90 L173.09,379.62 L173.85,380.19 L174.72,380.61 L175.68,380.87 L176.71,380.95 L177.77,380.87 L178.86,380.61 L179.93,380.19 L180.96,379.62 L181.93,378.90 L182.82,378.07 L183.59,377.13 L184.24,376.12 L184.74,375.05Z M182.94,367.79 C180.63,364.65 176.67,362.67 176.83,360.19 C177.00,358.22 179.64,358.48 182.61,358.48 L188.55,358.31" fill="none" stroke="#000" stroke-width="2.90"/>
<path d="M203.18,374.15 L203.33,373.01 L203.34,371.89 L203.20,370.83 L202.92,369.85 L202.49,368.97 L201.94,368.23 L201.27,367.63 L200.51,367.19 L199.67,366.92 L198.77,366.83 L197.83,366.92 L196.88,367.19 L195.94,367.63 L195.04,368.23 L194.19,368.97 L193.41,369.85 L192.73,370.83 L192.17,371.89 L191.73,373.01 L191.43,374.15 L191.27,375.30 L191.26,376.42 L191.40,377.48 L191.69,378.46 L192.11,379.33 L192.66,380.08 L193.33,380.68 L194.09,381.12 L194.94,381.39 L195.84,381.48 L196.77,381.39 L197.72,381.12 L198.66,380.68 L199.57,380.08 L200.42,379.33 L201.19,378.46 L201.87,377.48 L202.44,376.42 L202.88,375.30Z M207.63,365.81 C206.15,370.92 204.66,375.21 204.33,378.18 C204.17,381.15 205.82,381.65 207.96,380.66" fill="none" stroke="#000" stroke-width="2.77"/>
<text x="209.31" y="368.00" font-size="23">E</text>
<text x="210.81" y="390.40" font-size="23" class="i">η</text>
<text x="226.03" y="382.80" font-size="33">,</text>
<text x="237.50" y="382.80" font-size="33" class="i">η</text>
<rect x="256.27" y="368.81" width="16.10" height="2.90" fill="#000"/><rect x="256.27" y="376.00" width="16.10" height="2.90" fill="#000"/>
<text x="274.89" y="382.80" font-size="33">0</text>
<text x="292.54" y="382.80" font-size="33">.</text>
<text x="301.01" y="382.80" font-size="33">9</text>
<text x="318.67" y="382.80" font-size="33">9</text>
<line x1="116" y1="445.0" x2="150.3" y2="445.0" stroke="#0000ff" stroke-width="2.6"/>
<path d="M185.08,448.36 L185.26,447.26 L185.27,446.19 L185.12,445.18 L184.79,444.24 L184.31,443.41 L183.68,442.70 L182.92,442.12 L182.05,441.70 L181.09,441.45 L180.06,441.36 L178.99,441.45 L177.91,441.70 L176.84,442.12 L175.81,442.70 L174.83,443.41 L173.95,444.24 L173.18,445.18 L172.53,446.19 L172.03,447.26 L171.69,448.36 L171.51,449.45 L171.49,450.52 L171.65,451.53 L171.98,452.47 L172.46,453.30 L173.09,454.02 L173.85,454.59 L174.72,455.01 L175.68,455.27 L176.71,455.35 L177.77,455.27 L178.86,455.01 L179.93,454.59 L180.96,454.02 L181.93,453.30 L182.82,452.47 L183.59,451.53 L184.24,450.52 L184.74,449.45Z M182.94,442.19 C180.63,439.05 176.67,437.07 176.83,434.59 C177.00,432.62 179.64,432.88 182.61,432.88 L188.55,432.71" fill="none" stroke="#000" stroke-width="2.90"/>
<path d="M203.18,448.55 L203.33,447.41 L203.34,446.29 L203.20,445.23 L202.92,444.25 L202.49,443.37 L201.94,442.63 L201.27,442.03 L200.51,441.59 L199.67,441.32 L198.77,441.23 L197.83,441.32 L196.88,441.59 L195.94,442.03 L195.04,442.63 L194.19,443.37 L193.41,444.25 L192.73,445.23 L192.17,446.29 L191.73,447.41 L191.43,448.55 L191.27,449.70 L191.26,450.82 L191.40,451.88 L191.69,452.86 L192.11,453.73 L192.66,454.48 L193.33,455.08 L194.09,455.52 L194.94,455.79 L195.84,455.88 L196.77,455.79 L197.72,455.52 L198.66,455.08 L199.57,454.48 L200.42,453.73 L201.19,452.86 L201.87,451.88 L202.44,450.82 L202.88,449.70Z M207.63,440.20 C206.15,445.32 204.66,449.61 204.33,452.58 C204.17,455.55 205.82,456.05 207.96,455.06" fill="none" stroke="#000" stroke-width="2.77"/>
<text x="209.31" y="442.40" font-size="23">E</text>
<text x="210.81" y="464.80" font-size="23" class="i">η</text>
<text x="226.03" y="457.20" font-size="33">,</text>
<text x="237.50" y="457.20" font-size="33" class="i">η</text>
<rect x="256.27" y="443.21" width="16.10" height="2.90" fill="#000"/><rect x="256.27" y="450.40" width="16.10" height="2.90" fill="#000"/>
<text x="274.89" y="457.20" font-size="33">0</text>
<text x="292.54" y="457.20" font-size="33">.</text>
<text x="301.01" y="457.20" font-size="33">9</text>
<text x="318.67" y="457.20" font-size="33">5</text>
<line x1="861.7" y1="75.3" x2="934.8" y2="75.3" stroke="#ff0000" stroke-width="2.7"/>
<line x1="1032.5" y1="75.3" x2="1103.5" y2="75.3" stroke="#ff0000" stroke-width="2.7" stroke-dasharray="10.6 4.3"/>
<line x1="861.7" y1="149.6" x2="934.8" y2="149.6" stroke="#0000ff" stroke-width="2.7"/>
<line x1="1032.5" y1="149.6" x2="1103.5" y2="149.6" stroke="#0000ff" stroke-width="2.7" stroke-dasharray="10.6 4.3"/>
<path d="M968.96,78.29 L969.14,77.21 L969.15,76.16 L968.99,75.16 L968.67,74.24 L968.19,73.42 L967.58,72.72 L966.83,72.15 L965.97,71.74 L965.03,71.48 L964.01,71.40 L962.96,71.48 L961.89,71.74 L960.84,72.15 L959.82,72.72 L958.86,73.42 L957.99,74.24 L957.23,75.16 L956.60,76.16 L956.10,77.21 L955.76,78.29 L955.59,79.37 L955.57,80.42 L955.73,81.42 L956.05,82.34 L956.53,83.16 L957.14,83.86 L957.89,84.43 L958.75,84.84 L959.70,85.10 L960.71,85.18 L961.76,85.10 L962.83,84.84 L963.88,84.43 L964.90,83.86 L965.86,83.16 L966.73,82.34 L967.49,81.42 L968.12,80.42 L968.62,79.37Z M966.85,72.21 C964.57,69.12 960.67,67.17 960.83,64.74 C961.00,62.79 963.60,63.05 966.52,63.05 L972.37,62.89" fill="none" stroke="#000" stroke-width="2.86"/>
<path d="M986.77,78.48 L986.93,77.36 L986.94,76.26 L986.80,75.21 L986.52,74.24 L986.10,73.38 L985.56,72.65 L984.90,72.06 L984.15,71.62 L983.32,71.36 L982.43,71.27 L981.51,71.36 L980.57,71.62 L979.65,72.06 L978.75,72.65 L977.92,73.38 L977.16,74.24 L976.49,75.21 L975.93,76.26 L975.50,77.36 L975.20,78.48 L975.05,79.61 L975.04,80.71 L975.18,81.76 L975.46,82.73 L975.88,83.59 L976.42,84.32 L977.08,84.91 L977.83,85.35 L978.66,85.61 L979.54,85.70 L980.47,85.61 L981.40,85.35 L982.33,84.91 L983.22,84.32 L984.06,83.59 L984.82,82.73 L985.49,81.76 L986.04,80.71 L986.48,79.61Z M991.16,70.26 C989.70,75.30 988.23,79.53 987.91,82.45 C987.75,85.38 989.37,85.86 991.48,84.89" fill="none" stroke="#000" stroke-width="2.73"/>
<text x="992.16" y="72.70" font-size="23.8" class="i">E</text>
<text x="992.52" y="94.40" font-size="22.5" class="i">η</text>
<path d="M1140.26,78.29 L1140.44,77.21 L1140.45,76.16 L1140.29,75.16 L1139.97,74.24 L1139.49,73.42 L1138.88,72.72 L1138.13,72.15 L1137.27,71.74 L1136.33,71.48 L1135.31,71.40 L1134.26,71.48 L1133.19,71.74 L1132.14,72.15 L1131.12,72.72 L1130.16,73.42 L1129.29,74.24 L1128.53,75.16 L1127.90,76.16 L1127.40,77.21 L1127.06,78.29 L1126.89,79.37 L1126.87,80.42 L1127.03,81.42 L1127.35,82.34 L1127.83,83.16 L1128.44,83.86 L1129.19,84.43 L1130.05,84.84 L1131.00,85.10 L1132.01,85.18 L1133.06,85.10 L1134.13,84.84 L1135.18,84.43 L1136.20,83.86 L1137.16,83.16 L1138.03,82.34 L1138.79,81.42 L1139.42,80.42 L1139.92,79.37Z M1138.15,72.21 C1135.87,69.12 1131.97,67.17 1132.13,64.74 C1132.30,62.79 1134.90,63.05 1137.82,63.05 L1143.67,62.89" fill="none" stroke="#000" stroke-width="2.86"/>
<path d="M1158.07,78.48 L1158.23,77.36 L1158.24,76.26 L1158.10,75.21 L1157.82,74.24 L1157.40,73.38 L1156.86,72.65 L1156.20,72.06 L1155.45,71.62 L1154.62,71.36 L1153.73,71.27 L1152.81,71.36 L1151.87,71.62 L1150.95,72.06 L1150.05,72.65 L1149.22,73.38 L1148.46,74.24 L1147.79,75.21 L1147.23,76.26 L1146.80,77.36 L1146.50,78.48 L1146.35,79.61 L1146.34,80.71 L1146.48,81.76 L1146.76,82.73 L1147.18,83.59 L1147.72,84.32 L1148.38,84.91 L1149.13,85.35 L1149.96,85.61 L1150.84,85.70 L1151.77,85.61 L1152.70,85.35 L1153.63,84.91 L1154.52,84.32 L1155.36,83.59 L1156.12,82.73 L1156.79,81.76 L1157.34,80.71 L1157.78,79.61Z M1162.46,70.26 C1161.00,75.30 1159.53,79.53 1159.21,82.45 C1159.05,85.38 1160.67,85.86 1162.78,84.89" fill="none" stroke="#000" stroke-width="2.73"/>
<text x="1163.46" y="72.70" font-size="23.8" class="i">E</text>
<text x="1177.24" y="72.70" font-size="23.8">,LB</text>
<text x="1163.82" y="94.40" font-size="22.5" class="i">η</text>
<path d="M968.96,152.79 L969.14,151.71 L969.15,150.66 L968.99,149.66 L968.67,148.74 L968.19,147.92 L967.58,147.22 L966.83,146.65 L965.97,146.24 L965.03,145.98 L964.01,145.90 L962.96,145.98 L961.89,146.24 L960.84,146.65 L959.82,147.22 L958.86,147.92 L957.99,148.74 L957.23,149.66 L956.60,150.66 L956.10,151.71 L955.76,152.79 L955.59,153.87 L955.57,154.92 L955.73,155.92 L956.05,156.84 L956.53,157.66 L957.14,158.36 L957.89,158.93 L958.75,159.34 L959.70,159.60 L960.71,159.68 L961.76,159.60 L962.83,159.34 L963.88,158.93 L964.90,158.36 L965.86,157.66 L966.73,156.84 L967.49,155.92 L968.12,154.92 L968.62,153.87Z M966.85,146.71 C964.57,143.62 960.67,141.68 960.83,139.24 C961.00,137.29 963.60,137.55 966.52,137.55 L972.37,137.38" fill="none" stroke="#000" stroke-width="2.86"/>
<path d="M986.77,152.99 L986.93,151.86 L986.94,150.76 L986.80,149.71 L986.52,148.74 L986.10,147.88 L985.56,147.15 L984.90,146.56 L984.15,146.12 L983.32,145.86 L982.43,145.77 L981.51,145.86 L980.57,146.12 L979.65,146.56 L978.75,147.15 L977.92,147.88 L977.16,148.74 L976.49,149.71 L975.93,150.76 L975.50,151.86 L975.20,152.99 L975.05,154.11 L975.04,155.21 L975.18,156.26 L975.46,157.23 L975.88,158.09 L976.42,158.82 L977.08,159.41 L977.83,159.85 L978.66,160.11 L979.54,160.20 L980.47,160.11 L981.40,159.85 L982.33,159.41 L983.22,158.82 L984.06,158.09 L984.82,157.23 L985.49,156.26 L986.04,155.21 L986.48,154.11Z M991.16,144.76 C989.70,149.80 988.23,154.03 987.91,156.95 C987.75,159.88 989.37,160.36 991.48,159.39" fill="none" stroke="#000" stroke-width="2.73"/>
<text x="992.16" y="147.20" font-size="23.8" class="i">P</text>
<text x="992.52" y="168.90" font-size="22.5" class="i">η</text>
<path d="M1140.26,152.79 L1140.44,151.71 L1140.45,150.66 L1140.29,149.66 L1139.97,148.74 L1139.49,147.92 L1138.88,147.22 L1138.13,146.65 L1137.27,146.24 L1136.33,145.98 L1135.31,145.90 L1134.26,145.98 L1133.19,146.24 L1132.14,146.65 L1131.12,147.22 L1130.16,147.92 L1129.29,148.74 L1128.53,149.66 L1127.90,150.66 L1127.40,151.71 L1127.06,152.79 L1126.89,153.87 L1126.87,154.92 L1127.03,155.92 L1127.35,156.84 L1127.83,157.66 L1128.44,158.36 L1129.19,158.93 L1130.05,159.34 L1131.00,159.60 L1132.01,159.68 L1133.06,159.60 L1134.13,159.34 L1135.18,158.93 L1136.20,158.36 L1137.16,157.66 L1138.03,156.84 L1138.79,155.92 L1139.42,154.92 L1139.92,153.87Z M1138.15,146.71 C1135.87,143.62 1131.97,141.68 1132.13,139.24 C1132.30,137.29 1134.90,137.55 1137.82,137.55 L1143.67,137.38" fill="none" stroke="#000" stroke-width="2.86"/>
<path d="M1158.07,152.99 L1158.23,151.86 L1158.24,150.76 L1158.10,149.71 L1157.82,148.74 L1157.40,147.88 L1156.86,147.15 L1156.20,146.56 L1155.45,146.12 L1154.62,145.86 L1153.73,145.77 L1152.81,145.86 L1151.87,146.12 L1150.95,146.56 L1150.05,147.15 L1149.22,147.88 L1148.46,148.74 L1147.79,149.71 L1147.23,150.76 L1146.80,151.86 L1146.50,152.99 L1146.35,154.11 L1146.34,155.21 L1146.48,156.26 L1146.76,157.23 L1147.18,158.09 L1147.72,158.82 L1148.38,159.41 L1149.13,159.85 L1149.96,160.11 L1150.84,160.20 L1151.77,160.11 L1152.70,159.85 L1153.63,159.41 L1154.52,158.82 L1155.36,158.09 L1156.12,157.23 L1156.79,156.26 L1157.34,155.21 L1157.78,154.11Z M1162.46,144.76 C1161.00,149.80 1159.53,154.03 1159.21,156.95 C1159.05,159.88 1160.67,160.36 1162.78,159.39" fill="none" stroke="#000" stroke-width="2.73"/>
<text x="1163.46" y="147.20" font-size="23.8" class="i">P</text>
<text x="1177.24" y="147.20" font-size="23.8">,LB</text>
<text x="1163.82" y="168.90" font-size="22.5" class="i">η</text>
<text x="1229.00" y="52.30" font-size="37.5">(b)</text>
</svg></body></html>
